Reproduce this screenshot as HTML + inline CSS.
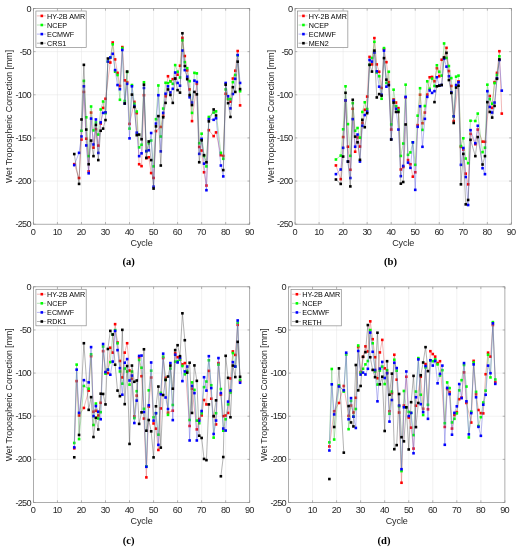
<!DOCTYPE html>
<html><head><meta charset="utf-8"><title>Wet Tropospheric Correction</title>
<style>
html,body{margin:0;padding:0;background:#fff;}
svg{display:block;}
text{font-family:"Liberation Sans",sans-serif;fill:#262626;}
.tk{font-size:9.2px;letter-spacing:-0.75px;}
.lb{font-size:9px;letter-spacing:-0.1px;}
.yl{font-size:8.75px;}
.lg{font-size:7.2px;fill:#000;}
.cap{font-family:"Liberation Serif",serif;font-weight:bold;font-size:10.6px;fill:#000;}
</style></head><body>
<svg width="519" height="550" viewBox="0 0 519 550">
<rect width="519" height="550" fill="#ffffff"/>

<g>
<line x1="57.43" y1="8.5" x2="57.43" y2="224.2" stroke="#e4e4e4" stroke-width="0.5"/>
<line x1="81.47" y1="8.5" x2="81.47" y2="224.2" stroke="#e4e4e4" stroke-width="0.5"/>
<line x1="105.5" y1="8.5" x2="105.5" y2="224.2" stroke="#e4e4e4" stroke-width="0.5"/>
<line x1="129.53" y1="8.5" x2="129.53" y2="224.2" stroke="#e4e4e4" stroke-width="0.5"/>
<line x1="153.57" y1="8.5" x2="153.57" y2="224.2" stroke="#e4e4e4" stroke-width="0.5"/>
<line x1="177.6" y1="8.5" x2="177.6" y2="224.2" stroke="#e4e4e4" stroke-width="0.5"/>
<line x1="201.63" y1="8.5" x2="201.63" y2="224.2" stroke="#e4e4e4" stroke-width="0.5"/>
<line x1="225.67" y1="8.5" x2="225.67" y2="224.2" stroke="#e4e4e4" stroke-width="0.5"/>
<line x1="33.4" y1="51.64" x2="249.7" y2="51.64" stroke="#e4e4e4" stroke-width="0.5"/>
<line x1="33.4" y1="94.78" x2="249.7" y2="94.78" stroke="#e4e4e4" stroke-width="0.5"/>
<line x1="33.4" y1="137.92" x2="249.7" y2="137.92" stroke="#e4e4e4" stroke-width="0.5"/>
<line x1="33.4" y1="181.06" x2="249.7" y2="181.06" stroke="#e4e4e4" stroke-width="0.5"/>
<polyline fill="none" stroke="#e06060" stroke-width="0.45" points="74.26,164.15 79.06,178.04 81.47,139.56 83.87,91.93 86.27,138.7 88.68,171.4 91.08,112.55 93.48,147.67 95.89,129.12 98.29,145.6 100.69,123.6 103.1,107.89 105.5,98.75 110.31,62.51 112.71,42.49 115.11,59.41 117.52,72.86 119.92,85.98 122.32,47.07 124.73,80.37 127.13,82.18 129.53,123.86 134.34,101.85 136.74,113.16 139.15,164.24 141.55,166.13 143.95,95.21 146.36,158.2 148.76,157.25 151.16,173.04 153.57,177.95 155.97,131.1 160.78,126.96 163.18,115.66 165.58,96.25 167.99,76.23 170.39,81.32 172.79,79.16 175.2,78.56 177.6,74.68 180,65.7 182.41,37.84 184.81,56.04 187.21,70.36 189.62,89.43 192.02,121.1 196.83,83.82 199.23,146.98 201.63,150.52 204.04,172.26 206.44,185.55 208.84,130.15 213.65,136.11 216.05,132.4 220.86,155.18 223.26,155.95 225.67,93.74 228.07,99.09 230.47,101.68 232.88,78.56 235.28,70.71 237.68,51.04 240.09,105.39"/>
<g fill="#ff0000"><rect x="72.96" y="162.85" width="2.6" height="2.6"/><rect x="77.76" y="176.74" width="2.6" height="2.6"/><rect x="80.17" y="138.26" width="2.6" height="2.6"/><rect x="82.57" y="90.63" width="2.6" height="2.6"/><rect x="84.97" y="137.4" width="2.6" height="2.6"/><rect x="87.38" y="170.1" width="2.6" height="2.6"/><rect x="89.78" y="111.25" width="2.6" height="2.6"/><rect x="92.18" y="146.37" width="2.6" height="2.6"/><rect x="94.59" y="127.82" width="2.6" height="2.6"/><rect x="96.99" y="144.3" width="2.6" height="2.6"/><rect x="99.39" y="122.3" width="2.6" height="2.6"/><rect x="101.8" y="106.59" width="2.6" height="2.6"/><rect x="104.2" y="97.45" width="2.6" height="2.6"/><rect x="109.01" y="61.21" width="2.6" height="2.6"/><rect x="111.41" y="41.19" width="2.6" height="2.6"/><rect x="113.81" y="58.11" width="2.6" height="2.6"/><rect x="116.22" y="71.56" width="2.6" height="2.6"/><rect x="118.62" y="84.68" width="2.6" height="2.6"/><rect x="121.02" y="45.77" width="2.6" height="2.6"/><rect x="123.43" y="79.07" width="2.6" height="2.6"/><rect x="125.83" y="80.88" width="2.6" height="2.6"/><rect x="128.23" y="122.56" width="2.6" height="2.6"/><rect x="133.04" y="100.55" width="2.6" height="2.6"/><rect x="135.44" y="111.86" width="2.6" height="2.6"/><rect x="137.85" y="162.94" width="2.6" height="2.6"/><rect x="140.25" y="164.83" width="2.6" height="2.6"/><rect x="142.65" y="93.91" width="2.6" height="2.6"/><rect x="145.06" y="156.9" width="2.6" height="2.6"/><rect x="147.46" y="155.95" width="2.6" height="2.6"/><rect x="149.86" y="171.74" width="2.6" height="2.6"/><rect x="152.27" y="176.65" width="2.6" height="2.6"/><rect x="154.67" y="129.8" width="2.6" height="2.6"/><rect x="159.48" y="125.66" width="2.6" height="2.6"/><rect x="161.88" y="114.36" width="2.6" height="2.6"/><rect x="164.28" y="94.95" width="2.6" height="2.6"/><rect x="166.69" y="74.93" width="2.6" height="2.6"/><rect x="169.09" y="80.02" width="2.6" height="2.6"/><rect x="171.49" y="77.86" width="2.6" height="2.6"/><rect x="173.9" y="77.26" width="2.6" height="2.6"/><rect x="176.3" y="73.38" width="2.6" height="2.6"/><rect x="178.7" y="64.4" width="2.6" height="2.6"/><rect x="181.11" y="36.54" width="2.6" height="2.6"/><rect x="183.51" y="54.74" width="2.6" height="2.6"/><rect x="185.91" y="69.06" width="2.6" height="2.6"/><rect x="188.32" y="88.13" width="2.6" height="2.6"/><rect x="190.72" y="119.8" width="2.6" height="2.6"/><rect x="195.53" y="82.52" width="2.6" height="2.6"/><rect x="197.93" y="145.68" width="2.6" height="2.6"/><rect x="200.33" y="149.22" width="2.6" height="2.6"/><rect x="202.74" y="170.96" width="2.6" height="2.6"/><rect x="205.14" y="184.25" width="2.6" height="2.6"/><rect x="207.54" y="128.85" width="2.6" height="2.6"/><rect x="212.35" y="134.81" width="2.6" height="2.6"/><rect x="214.75" y="131.1" width="2.6" height="2.6"/><rect x="219.56" y="153.88" width="2.6" height="2.6"/><rect x="221.96" y="154.65" width="2.6" height="2.6"/><rect x="224.37" y="92.44" width="2.6" height="2.6"/><rect x="226.77" y="97.79" width="2.6" height="2.6"/><rect x="229.17" y="100.38" width="2.6" height="2.6"/><rect x="231.58" y="77.26" width="2.6" height="2.6"/><rect x="233.98" y="69.41" width="2.6" height="2.6"/><rect x="236.38" y="49.74" width="2.6" height="2.6"/><rect x="238.79" y="104.09" width="2.6" height="2.6"/></g>
<polyline fill="none" stroke="#60c060" stroke-width="0.45" points="81.47,130.76 83.87,80.89 86.27,117.3 88.68,156.13 91.08,106.51 93.48,130.41 95.89,122.39 98.29,134.56 100.69,109.45 103.1,101.51 105.5,113.16 107.9,61.56 110.31,57.51 112.71,44.31 115.11,71.74 117.52,75.02 119.92,99.78 122.32,48.1 124.73,100.99 127.13,72 129.53,128.6 131.94,85.03 134.34,103.75 136.74,111.52 139.15,147.41 141.55,144.74 143.95,82.27 146.36,151.12 148.76,143.27 151.16,140.51 153.57,166.39 155.97,119.2 158.37,85.46 160.78,136.54 163.18,108.58 165.58,82.79 167.99,83.13 170.39,81.32 172.79,83.82 175.2,65.1 177.6,71.74 180,77.52 182.41,40.34 184.81,62.17 187.21,68.21 189.62,81.15 192.02,112.9 194.42,72.86 196.83,73.38 199.23,143.27 201.63,133.69 204.04,156.04 206.44,166.39 208.84,116.95 213.65,112.55 216.05,111.35 220.86,152.85 223.26,158.8 225.67,89.43 228.07,99.09 230.47,99.09 232.88,82.18 235.28,75.02 237.68,55.35 240.09,91.24"/>
<g fill="#00ff00"><rect x="80.17" y="129.46" width="2.6" height="2.6"/><rect x="82.57" y="79.59" width="2.6" height="2.6"/><rect x="84.97" y="116" width="2.6" height="2.6"/><rect x="87.38" y="154.83" width="2.6" height="2.6"/><rect x="89.78" y="105.21" width="2.6" height="2.6"/><rect x="92.18" y="129.11" width="2.6" height="2.6"/><rect x="94.59" y="121.09" width="2.6" height="2.6"/><rect x="96.99" y="133.26" width="2.6" height="2.6"/><rect x="99.39" y="108.15" width="2.6" height="2.6"/><rect x="101.8" y="100.21" width="2.6" height="2.6"/><rect x="104.2" y="111.86" width="2.6" height="2.6"/><rect x="106.6" y="60.26" width="2.6" height="2.6"/><rect x="109.01" y="56.21" width="2.6" height="2.6"/><rect x="111.41" y="43.01" width="2.6" height="2.6"/><rect x="113.81" y="70.44" width="2.6" height="2.6"/><rect x="116.22" y="73.72" width="2.6" height="2.6"/><rect x="118.62" y="98.48" width="2.6" height="2.6"/><rect x="121.02" y="46.8" width="2.6" height="2.6"/><rect x="123.43" y="99.69" width="2.6" height="2.6"/><rect x="125.83" y="70.7" width="2.6" height="2.6"/><rect x="128.23" y="127.3" width="2.6" height="2.6"/><rect x="130.64" y="83.73" width="2.6" height="2.6"/><rect x="133.04" y="102.45" width="2.6" height="2.6"/><rect x="135.44" y="110.22" width="2.6" height="2.6"/><rect x="137.85" y="146.11" width="2.6" height="2.6"/><rect x="140.25" y="143.44" width="2.6" height="2.6"/><rect x="142.65" y="80.97" width="2.6" height="2.6"/><rect x="145.06" y="149.82" width="2.6" height="2.6"/><rect x="147.46" y="141.97" width="2.6" height="2.6"/><rect x="149.86" y="139.21" width="2.6" height="2.6"/><rect x="152.27" y="165.09" width="2.6" height="2.6"/><rect x="154.67" y="117.9" width="2.6" height="2.6"/><rect x="157.07" y="84.16" width="2.6" height="2.6"/><rect x="159.48" y="135.24" width="2.6" height="2.6"/><rect x="161.88" y="107.28" width="2.6" height="2.6"/><rect x="164.28" y="81.49" width="2.6" height="2.6"/><rect x="166.69" y="81.83" width="2.6" height="2.6"/><rect x="169.09" y="80.02" width="2.6" height="2.6"/><rect x="171.49" y="82.52" width="2.6" height="2.6"/><rect x="173.9" y="63.8" width="2.6" height="2.6"/><rect x="176.3" y="70.44" width="2.6" height="2.6"/><rect x="178.7" y="76.22" width="2.6" height="2.6"/><rect x="181.11" y="39.04" width="2.6" height="2.6"/><rect x="183.51" y="60.87" width="2.6" height="2.6"/><rect x="185.91" y="66.91" width="2.6" height="2.6"/><rect x="188.32" y="79.85" width="2.6" height="2.6"/><rect x="190.72" y="111.6" width="2.6" height="2.6"/><rect x="193.12" y="71.56" width="2.6" height="2.6"/><rect x="195.53" y="72.08" width="2.6" height="2.6"/><rect x="197.93" y="141.97" width="2.6" height="2.6"/><rect x="200.33" y="132.39" width="2.6" height="2.6"/><rect x="202.74" y="154.74" width="2.6" height="2.6"/><rect x="205.14" y="165.09" width="2.6" height="2.6"/><rect x="207.54" y="115.65" width="2.6" height="2.6"/><rect x="212.35" y="111.25" width="2.6" height="2.6"/><rect x="214.75" y="110.05" width="2.6" height="2.6"/><rect x="219.56" y="151.55" width="2.6" height="2.6"/><rect x="221.96" y="157.5" width="2.6" height="2.6"/><rect x="224.37" y="88.13" width="2.6" height="2.6"/><rect x="226.77" y="97.79" width="2.6" height="2.6"/><rect x="229.17" y="97.79" width="2.6" height="2.6"/><rect x="231.58" y="80.88" width="2.6" height="2.6"/><rect x="233.98" y="73.72" width="2.6" height="2.6"/><rect x="236.38" y="54.05" width="2.6" height="2.6"/><rect x="238.79" y="89.94" width="2.6" height="2.6"/></g>
<polyline fill="none" stroke="#6060e0" stroke-width="0.45" points="74.26,165.1 79.06,152.85 81.47,136.45 83.87,86.32 86.27,145.43 88.68,173.29 91.08,118.59 93.48,144.48 95.89,119.46 98.29,152.93 100.69,122.39 103.1,112.9 105.5,112.29 107.9,61.56 110.31,57.51 112.71,53.8 115.11,70.1 117.52,85.03 119.92,89.17 122.32,50 124.73,103.49 127.13,83.82 129.53,138.35 131.94,86.32 134.34,106 136.74,132.66 139.15,156.13 141.55,153.36 143.95,87.96 146.36,151.12 148.76,150.26 151.16,133 153.57,186.67 155.97,123.6 158.37,95.21 160.78,151.38 163.18,112.9 165.58,93.74 167.99,86.32 170.39,92.45 172.79,88.83 175.2,72.52 177.6,82.96 180,85.72 182.41,50.52 184.81,70.1 187.21,76.66 189.62,97.28 192.02,102.55 194.42,80.63 196.83,81.92 199.23,153.88 201.63,138.87 204.04,163.63 206.44,190.21 208.84,119.11 213.65,119.8 216.05,118.25 220.86,165.53 223.26,176.4 225.67,82.96 228.07,96.25 230.47,108.41 232.88,94 235.28,78.82 237.68,55 240.09,82.96"/>
<g fill="#0000ff"><rect x="72.96" y="163.8" width="2.6" height="2.6"/><rect x="77.76" y="151.55" width="2.6" height="2.6"/><rect x="80.17" y="135.15" width="2.6" height="2.6"/><rect x="82.57" y="85.02" width="2.6" height="2.6"/><rect x="84.97" y="144.13" width="2.6" height="2.6"/><rect x="87.38" y="171.99" width="2.6" height="2.6"/><rect x="89.78" y="117.29" width="2.6" height="2.6"/><rect x="92.18" y="143.18" width="2.6" height="2.6"/><rect x="94.59" y="118.16" width="2.6" height="2.6"/><rect x="96.99" y="151.63" width="2.6" height="2.6"/><rect x="99.39" y="121.09" width="2.6" height="2.6"/><rect x="101.8" y="111.6" width="2.6" height="2.6"/><rect x="104.2" y="110.99" width="2.6" height="2.6"/><rect x="106.6" y="60.26" width="2.6" height="2.6"/><rect x="109.01" y="56.21" width="2.6" height="2.6"/><rect x="111.41" y="52.5" width="2.6" height="2.6"/><rect x="113.81" y="68.8" width="2.6" height="2.6"/><rect x="116.22" y="83.73" width="2.6" height="2.6"/><rect x="118.62" y="87.87" width="2.6" height="2.6"/><rect x="121.02" y="48.7" width="2.6" height="2.6"/><rect x="123.43" y="102.19" width="2.6" height="2.6"/><rect x="125.83" y="82.52" width="2.6" height="2.6"/><rect x="128.23" y="137.05" width="2.6" height="2.6"/><rect x="130.64" y="85.02" width="2.6" height="2.6"/><rect x="133.04" y="104.7" width="2.6" height="2.6"/><rect x="135.44" y="131.36" width="2.6" height="2.6"/><rect x="137.85" y="154.83" width="2.6" height="2.6"/><rect x="140.25" y="152.06" width="2.6" height="2.6"/><rect x="142.65" y="86.66" width="2.6" height="2.6"/><rect x="145.06" y="149.82" width="2.6" height="2.6"/><rect x="147.46" y="148.96" width="2.6" height="2.6"/><rect x="149.86" y="131.7" width="2.6" height="2.6"/><rect x="152.27" y="185.37" width="2.6" height="2.6"/><rect x="154.67" y="122.3" width="2.6" height="2.6"/><rect x="157.07" y="93.91" width="2.6" height="2.6"/><rect x="159.48" y="150.08" width="2.6" height="2.6"/><rect x="161.88" y="111.6" width="2.6" height="2.6"/><rect x="164.28" y="92.44" width="2.6" height="2.6"/><rect x="166.69" y="85.02" width="2.6" height="2.6"/><rect x="169.09" y="91.15" width="2.6" height="2.6"/><rect x="171.49" y="87.53" width="2.6" height="2.6"/><rect x="173.9" y="71.22" width="2.6" height="2.6"/><rect x="176.3" y="81.66" width="2.6" height="2.6"/><rect x="178.7" y="84.42" width="2.6" height="2.6"/><rect x="181.11" y="49.22" width="2.6" height="2.6"/><rect x="183.51" y="68.8" width="2.6" height="2.6"/><rect x="185.91" y="75.36" width="2.6" height="2.6"/><rect x="188.32" y="95.98" width="2.6" height="2.6"/><rect x="190.72" y="101.25" width="2.6" height="2.6"/><rect x="193.12" y="79.33" width="2.6" height="2.6"/><rect x="195.53" y="80.62" width="2.6" height="2.6"/><rect x="197.93" y="152.58" width="2.6" height="2.6"/><rect x="200.33" y="137.57" width="2.6" height="2.6"/><rect x="202.74" y="162.33" width="2.6" height="2.6"/><rect x="205.14" y="188.91" width="2.6" height="2.6"/><rect x="207.54" y="117.81" width="2.6" height="2.6"/><rect x="212.35" y="118.5" width="2.6" height="2.6"/><rect x="214.75" y="116.95" width="2.6" height="2.6"/><rect x="219.56" y="164.23" width="2.6" height="2.6"/><rect x="221.96" y="175.1" width="2.6" height="2.6"/><rect x="224.37" y="81.66" width="2.6" height="2.6"/><rect x="226.77" y="94.95" width="2.6" height="2.6"/><rect x="229.17" y="107.11" width="2.6" height="2.6"/><rect x="231.58" y="92.7" width="2.6" height="2.6"/><rect x="233.98" y="77.52" width="2.6" height="2.6"/><rect x="236.38" y="53.7" width="2.6" height="2.6"/><rect x="238.79" y="81.66" width="2.6" height="2.6"/></g>
<polyline fill="none" stroke="#555555" stroke-width="0.45" points="74.26,154.05 79.06,183.91 81.47,119.46 83.87,64.84 86.27,129.55 88.68,164.24 91.08,140.59 93.48,156.13 95.89,124.89 98.29,160.09 100.69,130.76 103.1,128.6 105.5,120.06 107.9,58.54"/>
<polyline fill="none" stroke="#555555" stroke-width="0.45" points="124.73,103.49 127.13,71.57"/>
<polyline fill="none" stroke="#555555" stroke-width="0.45" points="131.94,94.61 134.34,106.95 136.74,135.16 139.15,134.56 141.55,139.21 143.95,84.69 146.36,157.85 148.76,141.46 151.16,160.09 153.57,188.57 155.97,126.36 158.37,116.09 160.78,165.53 163.18,117.3 165.58,102.89 167.99,89.43 170.39,94.95 172.79,102.89 175.2,78.56 177.6,90.12 180,92.62 182.41,33.26 184.81,66.05 187.21,79.16 189.62,95.04 192.02,105.05 194.42,91.93 196.83,94.35 199.23,162.25 201.63,140.34 204.04,155.18 206.44,162.25 208.84,121.35 213.65,109.45 216.05,115.49"/>
<polyline fill="none" stroke="#555555" stroke-width="0.45" points="223.26,170.1 225.67,84.69 228.07,103.15 230.47,116.95 232.88,87.19 235.28,91.93 237.68,61.65 240.09,89.09"/>
<g fill="#000000"><rect x="72.96" y="152.75" width="2.6" height="2.6"/><rect x="77.76" y="182.61" width="2.6" height="2.6"/><rect x="80.17" y="118.16" width="2.6" height="2.6"/><rect x="82.57" y="63.54" width="2.6" height="2.6"/><rect x="84.97" y="128.25" width="2.6" height="2.6"/><rect x="87.38" y="162.94" width="2.6" height="2.6"/><rect x="89.78" y="139.29" width="2.6" height="2.6"/><rect x="92.18" y="154.83" width="2.6" height="2.6"/><rect x="94.59" y="123.59" width="2.6" height="2.6"/><rect x="96.99" y="158.79" width="2.6" height="2.6"/><rect x="99.39" y="129.46" width="2.6" height="2.6"/><rect x="101.8" y="127.3" width="2.6" height="2.6"/><rect x="104.2" y="118.76" width="2.6" height="2.6"/><rect x="106.6" y="57.24" width="2.6" height="2.6"/><rect x="123.43" y="102.19" width="2.6" height="2.6"/><rect x="125.83" y="70.27" width="2.6" height="2.6"/><rect x="130.64" y="93.31" width="2.6" height="2.6"/><rect x="133.04" y="105.65" width="2.6" height="2.6"/><rect x="135.44" y="133.86" width="2.6" height="2.6"/><rect x="137.85" y="133.26" width="2.6" height="2.6"/><rect x="140.25" y="137.91" width="2.6" height="2.6"/><rect x="142.65" y="83.39" width="2.6" height="2.6"/><rect x="145.06" y="156.55" width="2.6" height="2.6"/><rect x="147.46" y="140.16" width="2.6" height="2.6"/><rect x="149.86" y="158.79" width="2.6" height="2.6"/><rect x="152.27" y="187.27" width="2.6" height="2.6"/><rect x="154.67" y="125.06" width="2.6" height="2.6"/><rect x="157.07" y="114.79" width="2.6" height="2.6"/><rect x="159.48" y="164.23" width="2.6" height="2.6"/><rect x="161.88" y="116" width="2.6" height="2.6"/><rect x="164.28" y="101.59" width="2.6" height="2.6"/><rect x="166.69" y="88.13" width="2.6" height="2.6"/><rect x="169.09" y="93.65" width="2.6" height="2.6"/><rect x="171.49" y="101.59" width="2.6" height="2.6"/><rect x="173.9" y="77.26" width="2.6" height="2.6"/><rect x="176.3" y="88.82" width="2.6" height="2.6"/><rect x="178.7" y="91.32" width="2.6" height="2.6"/><rect x="181.11" y="31.96" width="2.6" height="2.6"/><rect x="183.51" y="64.75" width="2.6" height="2.6"/><rect x="185.91" y="77.86" width="2.6" height="2.6"/><rect x="188.32" y="93.74" width="2.6" height="2.6"/><rect x="190.72" y="103.75" width="2.6" height="2.6"/><rect x="193.12" y="90.63" width="2.6" height="2.6"/><rect x="195.53" y="93.05" width="2.6" height="2.6"/><rect x="197.93" y="160.95" width="2.6" height="2.6"/><rect x="200.33" y="139.04" width="2.6" height="2.6"/><rect x="202.74" y="153.88" width="2.6" height="2.6"/><rect x="205.14" y="160.95" width="2.6" height="2.6"/><rect x="207.54" y="120.05" width="2.6" height="2.6"/><rect x="212.35" y="108.15" width="2.6" height="2.6"/><rect x="214.75" y="114.19" width="2.6" height="2.6"/><rect x="221.96" y="168.8" width="2.6" height="2.6"/><rect x="224.37" y="83.39" width="2.6" height="2.6"/><rect x="226.77" y="101.85" width="2.6" height="2.6"/><rect x="229.17" y="115.65" width="2.6" height="2.6"/><rect x="231.58" y="85.89" width="2.6" height="2.6"/><rect x="233.98" y="90.63" width="2.6" height="2.6"/><rect x="236.38" y="60.35" width="2.6" height="2.6"/><rect x="238.79" y="87.79" width="2.6" height="2.6"/></g>
<rect x="33.4" y="8.5" width="216.3" height="215.7" fill="none" stroke="#8a8a8a" stroke-width="0.7"/>
<line x1="33.4" y1="224.2" x2="33.4" y2="222" stroke="#8a8a8a" stroke-width="0.6"/>
<line x1="33.4" y1="8.5" x2="33.4" y2="10.7" stroke="#8a8a8a" stroke-width="0.6"/>
<text class="tk" text-anchor="middle" x="33" y="234.5">0</text>
<line x1="57.43" y1="224.2" x2="57.43" y2="222" stroke="#8a8a8a" stroke-width="0.6"/>
<line x1="57.43" y1="8.5" x2="57.43" y2="10.7" stroke="#8a8a8a" stroke-width="0.6"/>
<text class="tk" text-anchor="middle" x="57.03" y="234.5">10</text>
<line x1="81.47" y1="224.2" x2="81.47" y2="222" stroke="#8a8a8a" stroke-width="0.6"/>
<line x1="81.47" y1="8.5" x2="81.47" y2="10.7" stroke="#8a8a8a" stroke-width="0.6"/>
<text class="tk" text-anchor="middle" x="81.07" y="234.5">20</text>
<line x1="105.5" y1="224.2" x2="105.5" y2="222" stroke="#8a8a8a" stroke-width="0.6"/>
<line x1="105.5" y1="8.5" x2="105.5" y2="10.7" stroke="#8a8a8a" stroke-width="0.6"/>
<text class="tk" text-anchor="middle" x="105.1" y="234.5">30</text>
<line x1="129.53" y1="224.2" x2="129.53" y2="222" stroke="#8a8a8a" stroke-width="0.6"/>
<line x1="129.53" y1="8.5" x2="129.53" y2="10.7" stroke="#8a8a8a" stroke-width="0.6"/>
<text class="tk" text-anchor="middle" x="129.13" y="234.5">40</text>
<line x1="153.57" y1="224.2" x2="153.57" y2="222" stroke="#8a8a8a" stroke-width="0.6"/>
<line x1="153.57" y1="8.5" x2="153.57" y2="10.7" stroke="#8a8a8a" stroke-width="0.6"/>
<text class="tk" text-anchor="middle" x="153.17" y="234.5">50</text>
<line x1="177.6" y1="224.2" x2="177.6" y2="222" stroke="#8a8a8a" stroke-width="0.6"/>
<line x1="177.6" y1="8.5" x2="177.6" y2="10.7" stroke="#8a8a8a" stroke-width="0.6"/>
<text class="tk" text-anchor="middle" x="177.2" y="234.5">60</text>
<line x1="201.63" y1="224.2" x2="201.63" y2="222" stroke="#8a8a8a" stroke-width="0.6"/>
<line x1="201.63" y1="8.5" x2="201.63" y2="10.7" stroke="#8a8a8a" stroke-width="0.6"/>
<text class="tk" text-anchor="middle" x="201.23" y="234.5">70</text>
<line x1="225.67" y1="224.2" x2="225.67" y2="222" stroke="#8a8a8a" stroke-width="0.6"/>
<line x1="225.67" y1="8.5" x2="225.67" y2="10.7" stroke="#8a8a8a" stroke-width="0.6"/>
<text class="tk" text-anchor="middle" x="225.27" y="234.5">80</text>
<line x1="249.7" y1="224.2" x2="249.7" y2="222" stroke="#8a8a8a" stroke-width="0.6"/>
<line x1="249.7" y1="8.5" x2="249.7" y2="10.7" stroke="#8a8a8a" stroke-width="0.6"/>
<text class="tk" text-anchor="middle" x="249.3" y="234.5">90</text>
<line x1="33.4" y1="8.5" x2="35.6" y2="8.5" stroke="#8a8a8a" stroke-width="0.6"/>
<line x1="249.7" y1="8.5" x2="247.5" y2="8.5" stroke="#8a8a8a" stroke-width="0.6"/>
<text class="tk" text-anchor="end" x="30.8" y="11.6">0</text>
<line x1="33.4" y1="51.64" x2="35.6" y2="51.64" stroke="#8a8a8a" stroke-width="0.6"/>
<line x1="249.7" y1="51.64" x2="247.5" y2="51.64" stroke="#8a8a8a" stroke-width="0.6"/>
<text class="tk" text-anchor="end" x="30.8" y="54.74">-50</text>
<line x1="33.4" y1="94.78" x2="35.6" y2="94.78" stroke="#8a8a8a" stroke-width="0.6"/>
<line x1="249.7" y1="94.78" x2="247.5" y2="94.78" stroke="#8a8a8a" stroke-width="0.6"/>
<text class="tk" text-anchor="end" x="30.8" y="97.88">-100</text>
<line x1="33.4" y1="137.92" x2="35.6" y2="137.92" stroke="#8a8a8a" stroke-width="0.6"/>
<line x1="249.7" y1="137.92" x2="247.5" y2="137.92" stroke="#8a8a8a" stroke-width="0.6"/>
<text class="tk" text-anchor="end" x="30.8" y="141.02">-150</text>
<line x1="33.4" y1="181.06" x2="35.6" y2="181.06" stroke="#8a8a8a" stroke-width="0.6"/>
<line x1="249.7" y1="181.06" x2="247.5" y2="181.06" stroke="#8a8a8a" stroke-width="0.6"/>
<text class="tk" text-anchor="end" x="30.8" y="184.16">-200</text>
<line x1="33.4" y1="224.2" x2="35.6" y2="224.2" stroke="#8a8a8a" stroke-width="0.6"/>
<line x1="249.7" y1="224.2" x2="247.5" y2="224.2" stroke="#8a8a8a" stroke-width="0.6"/>
<text class="tk" text-anchor="end" x="30.8" y="227.3">-250</text>
<text class="lb" text-anchor="middle" x="141.55" y="246.1">Cycle</text>
<text class="yl" text-anchor="middle" transform="translate(12.2 116.45) rotate(-90)">Wet Tropospheric Correction [mm]</text>
<rect x="35.9" y="11" width="50.3" height="36.5" fill="#fff" stroke="#8a8a8a" stroke-width="0.7"/>
<line x1="36.9" y1="15.9" x2="45.9" y2="15.9" stroke="#e06060" stroke-width="0.45"/>
<rect x="40.5" y="14.6" width="2.6" height="2.6" fill="#ff0000"/>
<text class="lg" x="47.1" y="19">HY-2B AMR</text>
<line x1="36.9" y1="25" x2="45.9" y2="25" stroke="#60c060" stroke-width="0.45"/>
<rect x="40.5" y="23.7" width="2.6" height="2.6" fill="#00ff00"/>
<text class="lg" x="47.1" y="28">NCEP</text>
<line x1="36.9" y1="34.1" x2="45.9" y2="34.1" stroke="#6060e0" stroke-width="0.45"/>
<rect x="40.5" y="32.8" width="2.6" height="2.6" fill="#0000ff"/>
<text class="lg" x="47.1" y="37">ECMWF</text>
<line x1="36.9" y1="43.2" x2="45.9" y2="43.2" stroke="#555555" stroke-width="0.45"/>
<rect x="40.5" y="41.9" width="2.6" height="2.6" fill="#000000"/>
<text class="lg" x="47.1" y="46">CRS1</text>
<text class="cap" text-anchor="middle" x="128.6" y="265">(a)</text>
</g>
<g>
<line x1="319.09" y1="8.5" x2="319.09" y2="224.2" stroke="#e4e4e4" stroke-width="0.5"/>
<line x1="343.13" y1="8.5" x2="343.13" y2="224.2" stroke="#e4e4e4" stroke-width="0.5"/>
<line x1="367.17" y1="8.5" x2="367.17" y2="224.2" stroke="#e4e4e4" stroke-width="0.5"/>
<line x1="391.21" y1="8.5" x2="391.21" y2="224.2" stroke="#e4e4e4" stroke-width="0.5"/>
<line x1="415.24" y1="8.5" x2="415.24" y2="224.2" stroke="#e4e4e4" stroke-width="0.5"/>
<line x1="439.28" y1="8.5" x2="439.28" y2="224.2" stroke="#e4e4e4" stroke-width="0.5"/>
<line x1="463.32" y1="8.5" x2="463.32" y2="224.2" stroke="#e4e4e4" stroke-width="0.5"/>
<line x1="487.36" y1="8.5" x2="487.36" y2="224.2" stroke="#e4e4e4" stroke-width="0.5"/>
<line x1="295.05" y1="51.64" x2="511.4" y2="51.64" stroke="#e4e4e4" stroke-width="0.5"/>
<line x1="295.05" y1="94.78" x2="511.4" y2="94.78" stroke="#e4e4e4" stroke-width="0.5"/>
<line x1="295.05" y1="137.92" x2="511.4" y2="137.92" stroke="#e4e4e4" stroke-width="0.5"/>
<line x1="295.05" y1="181.06" x2="511.4" y2="181.06" stroke="#e4e4e4" stroke-width="0.5"/>
<polyline fill="none" stroke="#e06060" stroke-width="0.45" points="335.92,165.44 340.72,179.16 343.13,137.06 345.53,100.65 347.94,146.72 350.34,169.76 352.74,108.76 355.15,151.72 357.55,137.4 359.95,146.55 362.36,122.82 364.76,109.79 367.17,96.59 369.57,56.9 371.97,64.41 374.38,38.09 376.78,64.41 379.19,71.74 381.59,87.96 383.99,49.14 386.4,62.17 388.8,82.18 391.21,129.55 393.61,99.35 396.01,102.55 398.42,108.15 400.82,169.5 403.23,167 405.63,97.45 408.03,160.09 410.44,164.24 412.84,176.66 415.24,172.26 417.65,125.15 420.05,94.69 422.46,123.25 424.86,112.55 427.26,94.61 429.67,77.27 432.07,76.92 434.48,81.32 436.88,68.21 439.28,76.23 441.69,59.75 444.09,57.51 446.5,47.84 448.9,71.05 451.3,85.98 453.71,121.1 458.51,81.32 460.92,146.89 463.32,149.65 465.73,173.64 468.13,184.34 470.53,133.86 475.34,144.22 477.75,129.55 482.55,141.63 484.96,141.8 489.76,95.99 492.17,107.89 494.57,82.18 496.98,72.86 499.38,51.21 501.78,113.59"/>
<g fill="#ff0000"><rect x="334.62" y="164.14" width="2.6" height="2.6"/><rect x="339.42" y="177.86" width="2.6" height="2.6"/><rect x="341.83" y="135.76" width="2.6" height="2.6"/><rect x="344.23" y="99.35" width="2.6" height="2.6"/><rect x="346.64" y="145.42" width="2.6" height="2.6"/><rect x="349.04" y="168.46" width="2.6" height="2.6"/><rect x="351.44" y="107.46" width="2.6" height="2.6"/><rect x="353.85" y="150.42" width="2.6" height="2.6"/><rect x="356.25" y="136.1" width="2.6" height="2.6"/><rect x="358.65" y="145.25" width="2.6" height="2.6"/><rect x="361.06" y="121.52" width="2.6" height="2.6"/><rect x="363.46" y="108.49" width="2.6" height="2.6"/><rect x="365.87" y="95.29" width="2.6" height="2.6"/><rect x="368.27" y="55.6" width="2.6" height="2.6"/><rect x="370.67" y="63.11" width="2.6" height="2.6"/><rect x="373.08" y="36.79" width="2.6" height="2.6"/><rect x="375.48" y="63.11" width="2.6" height="2.6"/><rect x="377.89" y="70.44" width="2.6" height="2.6"/><rect x="380.29" y="86.66" width="2.6" height="2.6"/><rect x="382.69" y="47.84" width="2.6" height="2.6"/><rect x="385.1" y="60.87" width="2.6" height="2.6"/><rect x="387.5" y="80.88" width="2.6" height="2.6"/><rect x="389.91" y="128.25" width="2.6" height="2.6"/><rect x="392.31" y="98.05" width="2.6" height="2.6"/><rect x="394.71" y="101.25" width="2.6" height="2.6"/><rect x="397.12" y="106.85" width="2.6" height="2.6"/><rect x="399.52" y="168.2" width="2.6" height="2.6"/><rect x="401.93" y="165.7" width="2.6" height="2.6"/><rect x="404.33" y="96.15" width="2.6" height="2.6"/><rect x="406.73" y="158.79" width="2.6" height="2.6"/><rect x="409.14" y="162.94" width="2.6" height="2.6"/><rect x="411.54" y="175.36" width="2.6" height="2.6"/><rect x="413.94" y="170.96" width="2.6" height="2.6"/><rect x="416.35" y="123.85" width="2.6" height="2.6"/><rect x="418.75" y="93.39" width="2.6" height="2.6"/><rect x="421.16" y="121.95" width="2.6" height="2.6"/><rect x="423.56" y="111.25" width="2.6" height="2.6"/><rect x="425.96" y="93.31" width="2.6" height="2.6"/><rect x="428.37" y="75.97" width="2.6" height="2.6"/><rect x="430.77" y="75.62" width="2.6" height="2.6"/><rect x="433.18" y="80.02" width="2.6" height="2.6"/><rect x="435.58" y="66.91" width="2.6" height="2.6"/><rect x="437.98" y="74.93" width="2.6" height="2.6"/><rect x="440.39" y="58.45" width="2.6" height="2.6"/><rect x="442.79" y="56.21" width="2.6" height="2.6"/><rect x="445.19" y="46.54" width="2.6" height="2.6"/><rect x="447.6" y="69.75" width="2.6" height="2.6"/><rect x="450" y="84.68" width="2.6" height="2.6"/><rect x="452.41" y="119.8" width="2.6" height="2.6"/><rect x="457.21" y="80.02" width="2.6" height="2.6"/><rect x="459.62" y="145.59" width="2.6" height="2.6"/><rect x="462.02" y="148.35" width="2.6" height="2.6"/><rect x="464.43" y="172.34" width="2.6" height="2.6"/><rect x="466.83" y="183.04" width="2.6" height="2.6"/><rect x="469.23" y="132.56" width="2.6" height="2.6"/><rect x="474.04" y="142.92" width="2.6" height="2.6"/><rect x="476.45" y="128.25" width="2.6" height="2.6"/><rect x="481.25" y="140.33" width="2.6" height="2.6"/><rect x="483.66" y="140.5" width="2.6" height="2.6"/><rect x="488.46" y="94.69" width="2.6" height="2.6"/><rect x="490.87" y="106.59" width="2.6" height="2.6"/><rect x="493.27" y="80.88" width="2.6" height="2.6"/><rect x="495.68" y="71.56" width="2.6" height="2.6"/><rect x="498.08" y="49.91" width="2.6" height="2.6"/><rect x="500.48" y="112.29" width="2.6" height="2.6"/></g>
<polyline fill="none" stroke="#60c060" stroke-width="0.45" points="335.92,159.49 340.72,155.61 343.13,129.29 345.53,86.32 347.94,124.12 350.34,155.87 352.74,103.15 355.15,130.76 357.55,128 359.95,137.66 362.36,111.95 364.76,102.29 367.17,109.02 369.57,64.84 371.97,57.94 374.38,41.8 376.78,72.52 379.19,76.23 381.59,98.75 383.99,48.1 386.4,82.96 388.8,71.74 391.21,124.46 393.61,89.69 396.01,106.26 398.42,110.05 400.82,155.95 403.23,143.53 405.63,84.69 408.03,154.83 410.44,152.42 412.84,142.32 415.24,164.84 417.65,115.66 420.05,88.22 422.46,129.9 424.86,106 427.26,81.32 429.67,88.83 432.07,78.56 434.48,85.98 436.88,65.27 439.28,71.74 441.69,75.63 444.09,43.44 446.5,57.94 448.9,66.05 451.3,78.13 453.71,116.35 456.11,76.66 458.51,75.63 460.92,146.03 463.32,138.27 465.73,158.54 468.13,163.2 470.53,120.75 475.34,121.01 477.75,113.59 482.55,152.16 484.96,147.67 487.36,84.69 489.76,99.09 492.17,103.75 494.57,83.13 496.98,75.02 499.38,56.3"/>
<g fill="#00ff00"><rect x="334.62" y="158.19" width="2.6" height="2.6"/><rect x="339.42" y="154.31" width="2.6" height="2.6"/><rect x="341.83" y="127.99" width="2.6" height="2.6"/><rect x="344.23" y="85.02" width="2.6" height="2.6"/><rect x="346.64" y="122.82" width="2.6" height="2.6"/><rect x="349.04" y="154.57" width="2.6" height="2.6"/><rect x="351.44" y="101.85" width="2.6" height="2.6"/><rect x="353.85" y="129.46" width="2.6" height="2.6"/><rect x="356.25" y="126.7" width="2.6" height="2.6"/><rect x="358.65" y="136.36" width="2.6" height="2.6"/><rect x="361.06" y="110.65" width="2.6" height="2.6"/><rect x="363.46" y="100.99" width="2.6" height="2.6"/><rect x="365.87" y="107.72" width="2.6" height="2.6"/><rect x="368.27" y="63.54" width="2.6" height="2.6"/><rect x="370.67" y="56.64" width="2.6" height="2.6"/><rect x="373.08" y="40.5" width="2.6" height="2.6"/><rect x="375.48" y="71.22" width="2.6" height="2.6"/><rect x="377.89" y="74.93" width="2.6" height="2.6"/><rect x="380.29" y="97.45" width="2.6" height="2.6"/><rect x="382.69" y="46.8" width="2.6" height="2.6"/><rect x="385.1" y="81.66" width="2.6" height="2.6"/><rect x="387.5" y="70.44" width="2.6" height="2.6"/><rect x="389.91" y="123.16" width="2.6" height="2.6"/><rect x="392.31" y="88.39" width="2.6" height="2.6"/><rect x="394.71" y="104.96" width="2.6" height="2.6"/><rect x="397.12" y="108.75" width="2.6" height="2.6"/><rect x="399.52" y="154.65" width="2.6" height="2.6"/><rect x="401.93" y="142.23" width="2.6" height="2.6"/><rect x="404.33" y="83.39" width="2.6" height="2.6"/><rect x="406.73" y="153.53" width="2.6" height="2.6"/><rect x="409.14" y="151.12" width="2.6" height="2.6"/><rect x="411.54" y="141.02" width="2.6" height="2.6"/><rect x="413.94" y="163.54" width="2.6" height="2.6"/><rect x="416.35" y="114.36" width="2.6" height="2.6"/><rect x="418.75" y="86.92" width="2.6" height="2.6"/><rect x="421.16" y="128.6" width="2.6" height="2.6"/><rect x="423.56" y="104.7" width="2.6" height="2.6"/><rect x="425.96" y="80.02" width="2.6" height="2.6"/><rect x="428.37" y="87.53" width="2.6" height="2.6"/><rect x="430.77" y="77.26" width="2.6" height="2.6"/><rect x="433.18" y="84.68" width="2.6" height="2.6"/><rect x="435.58" y="63.97" width="2.6" height="2.6"/><rect x="437.98" y="70.44" width="2.6" height="2.6"/><rect x="440.39" y="74.33" width="2.6" height="2.6"/><rect x="442.79" y="42.14" width="2.6" height="2.6"/><rect x="445.19" y="56.64" width="2.6" height="2.6"/><rect x="447.6" y="64.75" width="2.6" height="2.6"/><rect x="450" y="76.83" width="2.6" height="2.6"/><rect x="452.41" y="115.05" width="2.6" height="2.6"/><rect x="454.81" y="75.36" width="2.6" height="2.6"/><rect x="457.21" y="74.33" width="2.6" height="2.6"/><rect x="459.62" y="144.73" width="2.6" height="2.6"/><rect x="462.02" y="136.97" width="2.6" height="2.6"/><rect x="464.43" y="157.24" width="2.6" height="2.6"/><rect x="466.83" y="161.9" width="2.6" height="2.6"/><rect x="469.23" y="119.45" width="2.6" height="2.6"/><rect x="474.04" y="119.71" width="2.6" height="2.6"/><rect x="476.45" y="112.29" width="2.6" height="2.6"/><rect x="481.25" y="150.86" width="2.6" height="2.6"/><rect x="483.66" y="146.37" width="2.6" height="2.6"/><rect x="486.06" y="83.39" width="2.6" height="2.6"/><rect x="488.46" y="97.79" width="2.6" height="2.6"/><rect x="490.87" y="102.45" width="2.6" height="2.6"/><rect x="493.27" y="81.83" width="2.6" height="2.6"/><rect x="495.68" y="73.72" width="2.6" height="2.6"/><rect x="498.08" y="55" width="2.6" height="2.6"/></g>
<polyline fill="none" stroke="#6060e0" stroke-width="0.45" points="335.92,174.16 340.72,169.5 343.13,147.84 345.53,100.39 347.94,161.56 350.34,178.04 352.74,119.11 355.15,146.72 357.55,134.56 359.95,161.56 362.36,125.75 364.76,115.06 367.17,111.52 369.57,60.01 371.97,61.65 374.38,52.5 376.78,71.31 379.19,86.67 381.59,94.69 383.99,50.6 386.4,86.67 388.8,85.03 391.21,139.21 393.61,100.65 396.01,108.76 398.42,129.55 400.82,176.14 403.23,165.96 405.63,96.85 408.03,162.6 410.44,167.86 412.84,142.32 415.24,189.86 417.65,126.79 420.05,106.26 422.46,146.81 424.86,118.85 427.26,96.85 429.67,90.47 432.07,92.88 434.48,91.16 436.88,77.27 439.28,85.72 441.69,85.03 444.09,58.8 446.5,66.65 448.9,76.23 451.3,92.19 453.71,116.35 456.11,85.03 458.51,82.27 460.92,164.84 463.32,148.01 465.73,177 468.13,205.05 470.53,130.15 475.34,143.27 477.75,125.75 482.55,168.2 484.96,174.16 487.36,91.16 489.76,106.95 492.17,112.55 494.57,102.55 496.98,78.13 499.38,60.01 501.78,90.64"/>
<g fill="#0000ff"><rect x="334.62" y="172.86" width="2.6" height="2.6"/><rect x="339.42" y="168.2" width="2.6" height="2.6"/><rect x="341.83" y="146.54" width="2.6" height="2.6"/><rect x="344.23" y="99.09" width="2.6" height="2.6"/><rect x="346.64" y="160.26" width="2.6" height="2.6"/><rect x="349.04" y="176.74" width="2.6" height="2.6"/><rect x="351.44" y="117.81" width="2.6" height="2.6"/><rect x="353.85" y="145.42" width="2.6" height="2.6"/><rect x="356.25" y="133.26" width="2.6" height="2.6"/><rect x="358.65" y="160.26" width="2.6" height="2.6"/><rect x="361.06" y="124.45" width="2.6" height="2.6"/><rect x="363.46" y="113.76" width="2.6" height="2.6"/><rect x="365.87" y="110.22" width="2.6" height="2.6"/><rect x="368.27" y="58.71" width="2.6" height="2.6"/><rect x="370.67" y="60.35" width="2.6" height="2.6"/><rect x="373.08" y="51.2" width="2.6" height="2.6"/><rect x="375.48" y="70.01" width="2.6" height="2.6"/><rect x="377.89" y="85.37" width="2.6" height="2.6"/><rect x="380.29" y="93.39" width="2.6" height="2.6"/><rect x="382.69" y="49.3" width="2.6" height="2.6"/><rect x="385.1" y="85.37" width="2.6" height="2.6"/><rect x="387.5" y="83.73" width="2.6" height="2.6"/><rect x="389.91" y="137.91" width="2.6" height="2.6"/><rect x="392.31" y="99.35" width="2.6" height="2.6"/><rect x="394.71" y="107.46" width="2.6" height="2.6"/><rect x="397.12" y="128.25" width="2.6" height="2.6"/><rect x="399.52" y="174.84" width="2.6" height="2.6"/><rect x="401.93" y="164.66" width="2.6" height="2.6"/><rect x="404.33" y="95.55" width="2.6" height="2.6"/><rect x="406.73" y="161.3" width="2.6" height="2.6"/><rect x="409.14" y="166.56" width="2.6" height="2.6"/><rect x="411.54" y="141.02" width="2.6" height="2.6"/><rect x="413.94" y="188.56" width="2.6" height="2.6"/><rect x="416.35" y="125.49" width="2.6" height="2.6"/><rect x="418.75" y="104.96" width="2.6" height="2.6"/><rect x="421.16" y="145.51" width="2.6" height="2.6"/><rect x="423.56" y="117.55" width="2.6" height="2.6"/><rect x="425.96" y="95.55" width="2.6" height="2.6"/><rect x="428.37" y="89.17" width="2.6" height="2.6"/><rect x="430.77" y="91.58" width="2.6" height="2.6"/><rect x="433.18" y="89.86" width="2.6" height="2.6"/><rect x="435.58" y="75.97" width="2.6" height="2.6"/><rect x="437.98" y="84.42" width="2.6" height="2.6"/><rect x="440.39" y="83.73" width="2.6" height="2.6"/><rect x="442.79" y="57.5" width="2.6" height="2.6"/><rect x="445.19" y="65.35" width="2.6" height="2.6"/><rect x="447.6" y="74.93" width="2.6" height="2.6"/><rect x="450" y="90.89" width="2.6" height="2.6"/><rect x="452.41" y="115.05" width="2.6" height="2.6"/><rect x="454.81" y="83.73" width="2.6" height="2.6"/><rect x="457.21" y="80.97" width="2.6" height="2.6"/><rect x="459.62" y="163.54" width="2.6" height="2.6"/><rect x="462.02" y="146.71" width="2.6" height="2.6"/><rect x="464.43" y="175.7" width="2.6" height="2.6"/><rect x="466.83" y="203.75" width="2.6" height="2.6"/><rect x="469.23" y="128.85" width="2.6" height="2.6"/><rect x="474.04" y="141.97" width="2.6" height="2.6"/><rect x="476.45" y="124.45" width="2.6" height="2.6"/><rect x="481.25" y="166.9" width="2.6" height="2.6"/><rect x="483.66" y="172.86" width="2.6" height="2.6"/><rect x="486.06" y="89.86" width="2.6" height="2.6"/><rect x="488.46" y="105.65" width="2.6" height="2.6"/><rect x="490.87" y="111.25" width="2.6" height="2.6"/><rect x="493.27" y="101.25" width="2.6" height="2.6"/><rect x="495.68" y="76.83" width="2.6" height="2.6"/><rect x="498.08" y="58.71" width="2.6" height="2.6"/><rect x="500.48" y="89.34" width="2.6" height="2.6"/></g>
<polyline fill="none" stroke="#555555" stroke-width="0.45" points="335.92,179.51 340.72,183.91 343.13,156.56 345.53,92.8 347.94,161.56 350.34,186.41 352.74,99.78 355.15,136.63 357.55,142.32 359.95,159.84 362.36,119.8 364.76,127.22 367.17,113.16 369.57,64.84 371.97,71.57 374.38,50.6 376.78,97.45 379.19,94.09 381.59,95.64 383.99,58.11 386.4,79.68 388.8,85.03 391.21,139.56 393.61,102.55 396.01,111.95 398.42,111.95 400.82,183.65 403.23,182.01 405.63,124.46"/>
<polyline fill="none" stroke="#555555" stroke-width="0.45" points="434.48,102.11 436.88,86.32 439.28,85.72 441.69,85.03 444.09,57.51 446.5,52.85 448.9,80.03 451.3,92.97 453.71,122.99 456.11,87.53 458.51,85.72 460.92,184.34 463.32,153.88 465.73,204.36 468.13,199.96 470.53,139.82 475.34,156.13 477.75,137.06 482.55,164.49 484.96,156.13 487.36,102.11 489.76,111.95 492.17,117.56 494.57,105.91 496.98,78.82 499.38,59.41"/>
<g fill="#000000"><rect x="334.62" y="178.21" width="2.6" height="2.6"/><rect x="339.42" y="182.61" width="2.6" height="2.6"/><rect x="341.83" y="155.26" width="2.6" height="2.6"/><rect x="344.23" y="91.5" width="2.6" height="2.6"/><rect x="346.64" y="160.26" width="2.6" height="2.6"/><rect x="349.04" y="185.11" width="2.6" height="2.6"/><rect x="351.44" y="98.48" width="2.6" height="2.6"/><rect x="353.85" y="135.33" width="2.6" height="2.6"/><rect x="356.25" y="141.02" width="2.6" height="2.6"/><rect x="358.65" y="158.54" width="2.6" height="2.6"/><rect x="361.06" y="118.5" width="2.6" height="2.6"/><rect x="363.46" y="125.92" width="2.6" height="2.6"/><rect x="365.87" y="111.86" width="2.6" height="2.6"/><rect x="368.27" y="63.54" width="2.6" height="2.6"/><rect x="370.67" y="70.27" width="2.6" height="2.6"/><rect x="373.08" y="49.3" width="2.6" height="2.6"/><rect x="375.48" y="96.15" width="2.6" height="2.6"/><rect x="377.89" y="92.79" width="2.6" height="2.6"/><rect x="380.29" y="94.34" width="2.6" height="2.6"/><rect x="382.69" y="56.81" width="2.6" height="2.6"/><rect x="385.1" y="78.38" width="2.6" height="2.6"/><rect x="387.5" y="83.73" width="2.6" height="2.6"/><rect x="389.91" y="138.26" width="2.6" height="2.6"/><rect x="392.31" y="101.25" width="2.6" height="2.6"/><rect x="394.71" y="110.65" width="2.6" height="2.6"/><rect x="397.12" y="110.65" width="2.6" height="2.6"/><rect x="399.52" y="182.35" width="2.6" height="2.6"/><rect x="401.93" y="180.71" width="2.6" height="2.6"/><rect x="404.33" y="123.16" width="2.6" height="2.6"/><rect x="433.18" y="100.81" width="2.6" height="2.6"/><rect x="435.58" y="85.02" width="2.6" height="2.6"/><rect x="437.98" y="84.42" width="2.6" height="2.6"/><rect x="440.39" y="83.73" width="2.6" height="2.6"/><rect x="442.79" y="56.21" width="2.6" height="2.6"/><rect x="445.19" y="51.55" width="2.6" height="2.6"/><rect x="447.6" y="78.73" width="2.6" height="2.6"/><rect x="450" y="91.67" width="2.6" height="2.6"/><rect x="452.41" y="121.69" width="2.6" height="2.6"/><rect x="454.81" y="86.23" width="2.6" height="2.6"/><rect x="457.21" y="84.42" width="2.6" height="2.6"/><rect x="459.62" y="183.04" width="2.6" height="2.6"/><rect x="462.02" y="152.58" width="2.6" height="2.6"/><rect x="464.43" y="203.06" width="2.6" height="2.6"/><rect x="466.83" y="198.66" width="2.6" height="2.6"/><rect x="469.23" y="138.52" width="2.6" height="2.6"/><rect x="474.04" y="154.83" width="2.6" height="2.6"/><rect x="476.45" y="135.76" width="2.6" height="2.6"/><rect x="481.25" y="163.19" width="2.6" height="2.6"/><rect x="483.66" y="154.83" width="2.6" height="2.6"/><rect x="486.06" y="100.81" width="2.6" height="2.6"/><rect x="488.46" y="110.65" width="2.6" height="2.6"/><rect x="490.87" y="116.26" width="2.6" height="2.6"/><rect x="493.27" y="104.61" width="2.6" height="2.6"/><rect x="495.68" y="77.52" width="2.6" height="2.6"/><rect x="498.08" y="58.11" width="2.6" height="2.6"/></g>
<rect x="295.05" y="8.5" width="216.35" height="215.7" fill="none" stroke="#8a8a8a" stroke-width="0.7"/>
<line x1="295.05" y1="224.2" x2="295.05" y2="222" stroke="#8a8a8a" stroke-width="0.6"/>
<line x1="295.05" y1="8.5" x2="295.05" y2="10.7" stroke="#8a8a8a" stroke-width="0.6"/>
<text class="tk" text-anchor="middle" x="294.65" y="234.5">0</text>
<line x1="319.09" y1="224.2" x2="319.09" y2="222" stroke="#8a8a8a" stroke-width="0.6"/>
<line x1="319.09" y1="8.5" x2="319.09" y2="10.7" stroke="#8a8a8a" stroke-width="0.6"/>
<text class="tk" text-anchor="middle" x="318.69" y="234.5">10</text>
<line x1="343.13" y1="224.2" x2="343.13" y2="222" stroke="#8a8a8a" stroke-width="0.6"/>
<line x1="343.13" y1="8.5" x2="343.13" y2="10.7" stroke="#8a8a8a" stroke-width="0.6"/>
<text class="tk" text-anchor="middle" x="342.73" y="234.5">20</text>
<line x1="367.17" y1="224.2" x2="367.17" y2="222" stroke="#8a8a8a" stroke-width="0.6"/>
<line x1="367.17" y1="8.5" x2="367.17" y2="10.7" stroke="#8a8a8a" stroke-width="0.6"/>
<text class="tk" text-anchor="middle" x="366.77" y="234.5">30</text>
<line x1="391.21" y1="224.2" x2="391.21" y2="222" stroke="#8a8a8a" stroke-width="0.6"/>
<line x1="391.21" y1="8.5" x2="391.21" y2="10.7" stroke="#8a8a8a" stroke-width="0.6"/>
<text class="tk" text-anchor="middle" x="390.81" y="234.5">40</text>
<line x1="415.24" y1="224.2" x2="415.24" y2="222" stroke="#8a8a8a" stroke-width="0.6"/>
<line x1="415.24" y1="8.5" x2="415.24" y2="10.7" stroke="#8a8a8a" stroke-width="0.6"/>
<text class="tk" text-anchor="middle" x="414.84" y="234.5">50</text>
<line x1="439.28" y1="224.2" x2="439.28" y2="222" stroke="#8a8a8a" stroke-width="0.6"/>
<line x1="439.28" y1="8.5" x2="439.28" y2="10.7" stroke="#8a8a8a" stroke-width="0.6"/>
<text class="tk" text-anchor="middle" x="438.88" y="234.5">60</text>
<line x1="463.32" y1="224.2" x2="463.32" y2="222" stroke="#8a8a8a" stroke-width="0.6"/>
<line x1="463.32" y1="8.5" x2="463.32" y2="10.7" stroke="#8a8a8a" stroke-width="0.6"/>
<text class="tk" text-anchor="middle" x="462.92" y="234.5">70</text>
<line x1="487.36" y1="224.2" x2="487.36" y2="222" stroke="#8a8a8a" stroke-width="0.6"/>
<line x1="487.36" y1="8.5" x2="487.36" y2="10.7" stroke="#8a8a8a" stroke-width="0.6"/>
<text class="tk" text-anchor="middle" x="486.96" y="234.5">80</text>
<line x1="511.4" y1="224.2" x2="511.4" y2="222" stroke="#8a8a8a" stroke-width="0.6"/>
<line x1="511.4" y1="8.5" x2="511.4" y2="10.7" stroke="#8a8a8a" stroke-width="0.6"/>
<text class="tk" text-anchor="middle" x="511" y="234.5">90</text>
<line x1="295.05" y1="8.5" x2="297.25" y2="8.5" stroke="#8a8a8a" stroke-width="0.6"/>
<line x1="511.4" y1="8.5" x2="509.2" y2="8.5" stroke="#8a8a8a" stroke-width="0.6"/>
<text class="tk" text-anchor="end" x="292.45" y="11.6">0</text>
<line x1="295.05" y1="51.64" x2="297.25" y2="51.64" stroke="#8a8a8a" stroke-width="0.6"/>
<line x1="511.4" y1="51.64" x2="509.2" y2="51.64" stroke="#8a8a8a" stroke-width="0.6"/>
<text class="tk" text-anchor="end" x="292.45" y="54.74">-50</text>
<line x1="295.05" y1="94.78" x2="297.25" y2="94.78" stroke="#8a8a8a" stroke-width="0.6"/>
<line x1="511.4" y1="94.78" x2="509.2" y2="94.78" stroke="#8a8a8a" stroke-width="0.6"/>
<text class="tk" text-anchor="end" x="292.45" y="97.88">-100</text>
<line x1="295.05" y1="137.92" x2="297.25" y2="137.92" stroke="#8a8a8a" stroke-width="0.6"/>
<line x1="511.4" y1="137.92" x2="509.2" y2="137.92" stroke="#8a8a8a" stroke-width="0.6"/>
<text class="tk" text-anchor="end" x="292.45" y="141.02">-150</text>
<line x1="295.05" y1="181.06" x2="297.25" y2="181.06" stroke="#8a8a8a" stroke-width="0.6"/>
<line x1="511.4" y1="181.06" x2="509.2" y2="181.06" stroke="#8a8a8a" stroke-width="0.6"/>
<text class="tk" text-anchor="end" x="292.45" y="184.16">-200</text>
<line x1="295.05" y1="224.2" x2="297.25" y2="224.2" stroke="#8a8a8a" stroke-width="0.6"/>
<line x1="511.4" y1="224.2" x2="509.2" y2="224.2" stroke="#8a8a8a" stroke-width="0.6"/>
<text class="tk" text-anchor="end" x="292.45" y="227.3">-250</text>
<text class="lb" text-anchor="middle" x="403.23" y="246.1">Cycle</text>
<text class="yl" text-anchor="middle" transform="translate(273.85 116.45) rotate(-90)">Wet Tropospheric Correction [mm]</text>
<rect x="297.55" y="11" width="50.3" height="36.5" fill="#fff" stroke="#8a8a8a" stroke-width="0.7"/>
<line x1="298.55" y1="15.9" x2="307.55" y2="15.9" stroke="#e06060" stroke-width="0.45"/>
<rect x="302.15" y="14.6" width="2.6" height="2.6" fill="#ff0000"/>
<text class="lg" x="308.75" y="19">HY-2B AMR</text>
<line x1="298.55" y1="25" x2="307.55" y2="25" stroke="#60c060" stroke-width="0.45"/>
<rect x="302.15" y="23.7" width="2.6" height="2.6" fill="#00ff00"/>
<text class="lg" x="308.75" y="28">NCEP</text>
<line x1="298.55" y1="34.1" x2="307.55" y2="34.1" stroke="#6060e0" stroke-width="0.45"/>
<rect x="302.15" y="32.8" width="2.6" height="2.6" fill="#0000ff"/>
<text class="lg" x="308.75" y="37">ECMWF</text>
<line x1="298.55" y1="43.2" x2="307.55" y2="43.2" stroke="#555555" stroke-width="0.45"/>
<rect x="302.15" y="41.9" width="2.6" height="2.6" fill="#000000"/>
<text class="lg" x="308.75" y="46">MEN2</text>
<text class="cap" text-anchor="middle" x="390.5" y="265">(b)</text>
</g>
<g>
<line x1="57.43" y1="286.8" x2="57.43" y2="502.5" stroke="#e4e4e4" stroke-width="0.5"/>
<line x1="81.47" y1="286.8" x2="81.47" y2="502.5" stroke="#e4e4e4" stroke-width="0.5"/>
<line x1="105.5" y1="286.8" x2="105.5" y2="502.5" stroke="#e4e4e4" stroke-width="0.5"/>
<line x1="129.53" y1="286.8" x2="129.53" y2="502.5" stroke="#e4e4e4" stroke-width="0.5"/>
<line x1="153.57" y1="286.8" x2="153.57" y2="502.5" stroke="#e4e4e4" stroke-width="0.5"/>
<line x1="177.6" y1="286.8" x2="177.6" y2="502.5" stroke="#e4e4e4" stroke-width="0.5"/>
<line x1="201.63" y1="286.8" x2="201.63" y2="502.5" stroke="#e4e4e4" stroke-width="0.5"/>
<line x1="225.67" y1="286.8" x2="225.67" y2="502.5" stroke="#e4e4e4" stroke-width="0.5"/>
<line x1="33.4" y1="329.94" x2="249.7" y2="329.94" stroke="#e4e4e4" stroke-width="0.5"/>
<line x1="33.4" y1="373.08" x2="249.7" y2="373.08" stroke="#e4e4e4" stroke-width="0.5"/>
<line x1="33.4" y1="416.22" x2="249.7" y2="416.22" stroke="#e4e4e4" stroke-width="0.5"/>
<line x1="33.4" y1="459.36" x2="249.7" y2="459.36" stroke="#e4e4e4" stroke-width="0.5"/>
<polyline fill="none" stroke="#e06060" stroke-width="0.45" points="74.26,448.32 76.66,381.1 79.06,415.53 83.87,407.94 88.68,390.59 91.08,356.17 93.48,411.73 95.89,410.7 98.29,415.53 100.69,402.76 103.1,351.16 105.5,372.13 107.9,373.08 110.31,347.71 112.71,352.63 115.11,324.16 117.52,342.45 119.92,361 122.32,377.48 124.73,352.63 127.13,343.23 129.53,370.58 131.94,378.69 134.34,416.39 136.74,395.6 139.15,357.46 141.55,376.19 143.95,418.55 146.36,477.39 148.76,406.64 151.16,377.48 153.57,423.47 155.97,428.64 158.37,449.96 160.78,408.45 163.18,358.07 165.58,377.83 167.99,412.6 172.79,410.7 175.2,353.06 177.6,357.2 180,359.71 182.41,364.37 184.81,363.07 189.62,425.97 192.02,388.7 196.83,429.42 199.23,419.07 201.63,415.44 204.04,400 206.44,404.4 208.84,370.84 211.25,398.71 213.65,416.13 216.05,424.42 218.46,363.07 220.86,394.74 223.26,416.13 225.67,415.53 228.07,412.94 230.47,378.43 232.88,351.42 235.28,354.96 237.68,324.85 240.09,381.1"/>
<g fill="#ff0000"><rect x="72.96" y="447.02" width="2.6" height="2.6"/><rect x="75.36" y="379.8" width="2.6" height="2.6"/><rect x="77.76" y="414.23" width="2.6" height="2.6"/><rect x="82.57" y="406.64" width="2.6" height="2.6"/><rect x="87.38" y="389.29" width="2.6" height="2.6"/><rect x="89.78" y="354.87" width="2.6" height="2.6"/><rect x="92.18" y="410.43" width="2.6" height="2.6"/><rect x="94.59" y="409.4" width="2.6" height="2.6"/><rect x="96.99" y="414.23" width="2.6" height="2.6"/><rect x="99.39" y="401.46" width="2.6" height="2.6"/><rect x="101.8" y="349.86" width="2.6" height="2.6"/><rect x="104.2" y="370.83" width="2.6" height="2.6"/><rect x="106.6" y="371.78" width="2.6" height="2.6"/><rect x="109.01" y="346.41" width="2.6" height="2.6"/><rect x="111.41" y="351.33" width="2.6" height="2.6"/><rect x="113.81" y="322.86" width="2.6" height="2.6"/><rect x="116.22" y="341.15" width="2.6" height="2.6"/><rect x="118.62" y="359.7" width="2.6" height="2.6"/><rect x="121.02" y="376.18" width="2.6" height="2.6"/><rect x="123.43" y="351.33" width="2.6" height="2.6"/><rect x="125.83" y="341.93" width="2.6" height="2.6"/><rect x="128.23" y="369.28" width="2.6" height="2.6"/><rect x="130.64" y="377.39" width="2.6" height="2.6"/><rect x="133.04" y="415.09" width="2.6" height="2.6"/><rect x="135.44" y="394.3" width="2.6" height="2.6"/><rect x="137.85" y="356.16" width="2.6" height="2.6"/><rect x="140.25" y="374.89" width="2.6" height="2.6"/><rect x="142.65" y="417.25" width="2.6" height="2.6"/><rect x="145.06" y="476.09" width="2.6" height="2.6"/><rect x="147.46" y="405.34" width="2.6" height="2.6"/><rect x="149.86" y="376.18" width="2.6" height="2.6"/><rect x="152.27" y="422.17" width="2.6" height="2.6"/><rect x="154.67" y="427.34" width="2.6" height="2.6"/><rect x="157.07" y="448.66" width="2.6" height="2.6"/><rect x="159.48" y="407.15" width="2.6" height="2.6"/><rect x="161.88" y="356.77" width="2.6" height="2.6"/><rect x="164.28" y="376.53" width="2.6" height="2.6"/><rect x="166.69" y="411.3" width="2.6" height="2.6"/><rect x="171.49" y="409.4" width="2.6" height="2.6"/><rect x="173.9" y="351.76" width="2.6" height="2.6"/><rect x="176.3" y="355.9" width="2.6" height="2.6"/><rect x="178.7" y="358.41" width="2.6" height="2.6"/><rect x="181.11" y="363.07" width="2.6" height="2.6"/><rect x="183.51" y="361.77" width="2.6" height="2.6"/><rect x="188.32" y="424.67" width="2.6" height="2.6"/><rect x="190.72" y="387.4" width="2.6" height="2.6"/><rect x="195.53" y="428.12" width="2.6" height="2.6"/><rect x="197.93" y="417.77" width="2.6" height="2.6"/><rect x="200.33" y="414.14" width="2.6" height="2.6"/><rect x="202.74" y="398.7" width="2.6" height="2.6"/><rect x="205.14" y="403.1" width="2.6" height="2.6"/><rect x="207.54" y="369.54" width="2.6" height="2.6"/><rect x="209.95" y="397.41" width="2.6" height="2.6"/><rect x="212.35" y="414.83" width="2.6" height="2.6"/><rect x="214.75" y="423.12" width="2.6" height="2.6"/><rect x="217.16" y="361.77" width="2.6" height="2.6"/><rect x="219.56" y="393.44" width="2.6" height="2.6"/><rect x="221.96" y="414.83" width="2.6" height="2.6"/><rect x="224.37" y="414.23" width="2.6" height="2.6"/><rect x="226.77" y="411.64" width="2.6" height="2.6"/><rect x="229.17" y="377.13" width="2.6" height="2.6"/><rect x="231.58" y="350.12" width="2.6" height="2.6"/><rect x="233.98" y="353.66" width="2.6" height="2.6"/><rect x="236.38" y="323.55" width="2.6" height="2.6"/><rect x="238.79" y="379.8" width="2.6" height="2.6"/></g>
<polyline fill="none" stroke="#60c060" stroke-width="0.45" points="74.26,442.97 76.66,364.62 79.06,439.08 83.87,385.94 88.68,388.7 91.08,354.27 93.48,425.02 95.89,403.54 98.29,418.46 100.69,412.16 103.1,346.51 105.5,373.68 107.9,369.63 110.31,362.12 112.71,334.51 115.11,330.11 117.52,343.31 119.92,371.44 122.32,383.69 124.73,368.51 127.13,371.53 129.53,384.64 131.94,371.53 134.34,418.12 136.74,391.2 139.15,359.97 141.55,367.73 143.95,408.8 146.36,466.43 148.76,390.34 151.16,370.66 153.57,417.34 155.97,413.2 158.37,434.68 160.78,392.84 163.18,356.6 165.58,379.9 167.99,414.84 170.39,368.51 172.79,405 175.2,361.6 177.6,361.17 180,359.71 182.41,366.01 184.81,374.29 187.21,371.01 189.62,420.02 192.02,382.4 194.42,389.9 196.83,420.62 199.23,423.21 201.63,413.2 204.04,387.14 206.44,381.54 208.84,360.31 211.25,385.25 213.65,437.62 216.05,413.2 218.46,364.62 220.86,389.04 223.26,430.72 225.67,419.24 228.07,404.4 230.47,392.49 232.88,353.06 235.28,366.52 237.68,322.69 240.09,379.9"/>
<g fill="#00ff00"><rect x="72.96" y="441.67" width="2.6" height="2.6"/><rect x="75.36" y="363.32" width="2.6" height="2.6"/><rect x="77.76" y="437.78" width="2.6" height="2.6"/><rect x="82.57" y="384.64" width="2.6" height="2.6"/><rect x="87.38" y="387.4" width="2.6" height="2.6"/><rect x="89.78" y="352.97" width="2.6" height="2.6"/><rect x="92.18" y="423.72" width="2.6" height="2.6"/><rect x="94.59" y="402.24" width="2.6" height="2.6"/><rect x="96.99" y="417.16" width="2.6" height="2.6"/><rect x="99.39" y="410.86" width="2.6" height="2.6"/><rect x="101.8" y="345.21" width="2.6" height="2.6"/><rect x="104.2" y="372.38" width="2.6" height="2.6"/><rect x="106.6" y="368.33" width="2.6" height="2.6"/><rect x="109.01" y="360.82" width="2.6" height="2.6"/><rect x="111.41" y="333.21" width="2.6" height="2.6"/><rect x="113.81" y="328.81" width="2.6" height="2.6"/><rect x="116.22" y="342.01" width="2.6" height="2.6"/><rect x="118.62" y="370.14" width="2.6" height="2.6"/><rect x="121.02" y="382.39" width="2.6" height="2.6"/><rect x="123.43" y="367.21" width="2.6" height="2.6"/><rect x="125.83" y="370.23" width="2.6" height="2.6"/><rect x="128.23" y="383.34" width="2.6" height="2.6"/><rect x="130.64" y="370.23" width="2.6" height="2.6"/><rect x="133.04" y="416.82" width="2.6" height="2.6"/><rect x="135.44" y="389.9" width="2.6" height="2.6"/><rect x="137.85" y="358.67" width="2.6" height="2.6"/><rect x="140.25" y="366.43" width="2.6" height="2.6"/><rect x="142.65" y="407.5" width="2.6" height="2.6"/><rect x="145.06" y="465.13" width="2.6" height="2.6"/><rect x="147.46" y="389.04" width="2.6" height="2.6"/><rect x="149.86" y="369.36" width="2.6" height="2.6"/><rect x="152.27" y="416.04" width="2.6" height="2.6"/><rect x="154.67" y="411.9" width="2.6" height="2.6"/><rect x="157.07" y="433.38" width="2.6" height="2.6"/><rect x="159.48" y="391.54" width="2.6" height="2.6"/><rect x="161.88" y="355.3" width="2.6" height="2.6"/><rect x="164.28" y="378.6" width="2.6" height="2.6"/><rect x="166.69" y="413.54" width="2.6" height="2.6"/><rect x="169.09" y="367.21" width="2.6" height="2.6"/><rect x="171.49" y="403.7" width="2.6" height="2.6"/><rect x="173.9" y="360.3" width="2.6" height="2.6"/><rect x="176.3" y="359.87" width="2.6" height="2.6"/><rect x="178.7" y="358.41" width="2.6" height="2.6"/><rect x="181.11" y="364.71" width="2.6" height="2.6"/><rect x="183.51" y="372.99" width="2.6" height="2.6"/><rect x="185.91" y="369.71" width="2.6" height="2.6"/><rect x="188.32" y="418.72" width="2.6" height="2.6"/><rect x="190.72" y="381.1" width="2.6" height="2.6"/><rect x="193.12" y="388.6" width="2.6" height="2.6"/><rect x="195.53" y="419.32" width="2.6" height="2.6"/><rect x="197.93" y="421.91" width="2.6" height="2.6"/><rect x="200.33" y="411.9" width="2.6" height="2.6"/><rect x="202.74" y="385.84" width="2.6" height="2.6"/><rect x="205.14" y="380.24" width="2.6" height="2.6"/><rect x="207.54" y="359.01" width="2.6" height="2.6"/><rect x="209.95" y="383.95" width="2.6" height="2.6"/><rect x="212.35" y="436.32" width="2.6" height="2.6"/><rect x="214.75" y="411.9" width="2.6" height="2.6"/><rect x="217.16" y="363.32" width="2.6" height="2.6"/><rect x="219.56" y="387.74" width="2.6" height="2.6"/><rect x="221.96" y="429.42" width="2.6" height="2.6"/><rect x="224.37" y="417.94" width="2.6" height="2.6"/><rect x="226.77" y="403.1" width="2.6" height="2.6"/><rect x="229.17" y="391.19" width="2.6" height="2.6"/><rect x="231.58" y="351.76" width="2.6" height="2.6"/><rect x="233.98" y="365.22" width="2.6" height="2.6"/><rect x="236.38" y="321.39" width="2.6" height="2.6"/><rect x="238.79" y="378.6" width="2.6" height="2.6"/></g>
<polyline fill="none" stroke="#6060e0" stroke-width="0.45" points="74.26,447.37 76.66,369.63 79.06,412.86 83.87,380.15 88.68,382.4 91.08,347.11 93.48,416.13 95.89,406.04 98.29,411.73 100.69,419.24 103.1,344 105.5,372.13 107.9,369.63 110.31,374.72 112.71,361.6 115.11,330.89 117.52,350.13 119.92,368.16 122.32,394.74 124.73,362.73 127.13,359.1 129.53,380.5 131.94,375.58 134.34,423.04 136.74,400.6 139.15,355.91 141.55,355.57 143.95,411.99 146.36,466.78 148.76,405.26 151.16,362.47 153.57,420.62 155.97,413.2 158.37,444.86 160.78,394.3 163.18,353.67 165.58,397.5 167.99,409.06 170.39,363.07 172.79,420.1 175.2,354.7 177.6,362.47 180,357.81 182.41,381.1 184.81,371.44 187.21,366.52 189.62,440.46 192.02,385.94 194.42,393.1 196.83,440.46 199.23,420.71 201.63,411.04 204.04,377.22 206.44,390.59 208.84,356.17 211.25,388.09 213.65,433.99 216.05,420.53 218.46,358.07 220.86,393.1 223.26,428.56 225.67,430.54 228.07,401.64 230.47,390.59 232.88,362.12 235.28,366.52 237.68,320.45 240.09,382.74"/>
<g fill="#0000ff"><rect x="72.96" y="446.07" width="2.6" height="2.6"/><rect x="75.36" y="368.33" width="2.6" height="2.6"/><rect x="77.76" y="411.56" width="2.6" height="2.6"/><rect x="82.57" y="378.85" width="2.6" height="2.6"/><rect x="87.38" y="381.1" width="2.6" height="2.6"/><rect x="89.78" y="345.81" width="2.6" height="2.6"/><rect x="92.18" y="414.83" width="2.6" height="2.6"/><rect x="94.59" y="404.74" width="2.6" height="2.6"/><rect x="96.99" y="410.43" width="2.6" height="2.6"/><rect x="99.39" y="417.94" width="2.6" height="2.6"/><rect x="101.8" y="342.7" width="2.6" height="2.6"/><rect x="104.2" y="370.83" width="2.6" height="2.6"/><rect x="106.6" y="368.33" width="2.6" height="2.6"/><rect x="109.01" y="373.42" width="2.6" height="2.6"/><rect x="111.41" y="360.3" width="2.6" height="2.6"/><rect x="113.81" y="329.59" width="2.6" height="2.6"/><rect x="116.22" y="348.83" width="2.6" height="2.6"/><rect x="118.62" y="366.86" width="2.6" height="2.6"/><rect x="121.02" y="393.44" width="2.6" height="2.6"/><rect x="123.43" y="361.43" width="2.6" height="2.6"/><rect x="125.83" y="357.8" width="2.6" height="2.6"/><rect x="128.23" y="379.2" width="2.6" height="2.6"/><rect x="130.64" y="374.28" width="2.6" height="2.6"/><rect x="133.04" y="421.74" width="2.6" height="2.6"/><rect x="135.44" y="399.3" width="2.6" height="2.6"/><rect x="137.85" y="354.61" width="2.6" height="2.6"/><rect x="140.25" y="354.27" width="2.6" height="2.6"/><rect x="142.65" y="410.69" width="2.6" height="2.6"/><rect x="145.06" y="465.48" width="2.6" height="2.6"/><rect x="147.46" y="403.96" width="2.6" height="2.6"/><rect x="149.86" y="361.17" width="2.6" height="2.6"/><rect x="152.27" y="419.32" width="2.6" height="2.6"/><rect x="154.67" y="411.9" width="2.6" height="2.6"/><rect x="157.07" y="443.56" width="2.6" height="2.6"/><rect x="159.48" y="393" width="2.6" height="2.6"/><rect x="161.88" y="352.37" width="2.6" height="2.6"/><rect x="164.28" y="396.2" width="2.6" height="2.6"/><rect x="166.69" y="407.76" width="2.6" height="2.6"/><rect x="169.09" y="361.77" width="2.6" height="2.6"/><rect x="171.49" y="418.8" width="2.6" height="2.6"/><rect x="173.9" y="353.4" width="2.6" height="2.6"/><rect x="176.3" y="361.17" width="2.6" height="2.6"/><rect x="178.7" y="356.51" width="2.6" height="2.6"/><rect x="181.11" y="379.8" width="2.6" height="2.6"/><rect x="183.51" y="370.14" width="2.6" height="2.6"/><rect x="185.91" y="365.22" width="2.6" height="2.6"/><rect x="188.32" y="439.16" width="2.6" height="2.6"/><rect x="190.72" y="384.64" width="2.6" height="2.6"/><rect x="193.12" y="391.8" width="2.6" height="2.6"/><rect x="195.53" y="439.16" width="2.6" height="2.6"/><rect x="197.93" y="419.41" width="2.6" height="2.6"/><rect x="200.33" y="409.74" width="2.6" height="2.6"/><rect x="202.74" y="375.92" width="2.6" height="2.6"/><rect x="205.14" y="389.29" width="2.6" height="2.6"/><rect x="207.54" y="354.87" width="2.6" height="2.6"/><rect x="209.95" y="386.79" width="2.6" height="2.6"/><rect x="212.35" y="432.69" width="2.6" height="2.6"/><rect x="214.75" y="419.23" width="2.6" height="2.6"/><rect x="217.16" y="356.77" width="2.6" height="2.6"/><rect x="219.56" y="391.8" width="2.6" height="2.6"/><rect x="221.96" y="427.26" width="2.6" height="2.6"/><rect x="224.37" y="429.24" width="2.6" height="2.6"/><rect x="226.77" y="400.34" width="2.6" height="2.6"/><rect x="229.17" y="389.29" width="2.6" height="2.6"/><rect x="231.58" y="360.82" width="2.6" height="2.6"/><rect x="233.98" y="365.22" width="2.6" height="2.6"/><rect x="236.38" y="319.15" width="2.6" height="2.6"/><rect x="238.79" y="381.44" width="2.6" height="2.6"/></g>
<polyline fill="none" stroke="#555555" stroke-width="0.45" points="79.06,434.94 83.87,343.23 88.68,409.84 91.08,397.15 93.48,437.01 95.89,417.77 98.29,429.42 100.69,393.7 103.1,393.96 105.5,404.4 107.9,349.01 110.31,330.89 112.71,334.51 115.11,364.71 117.52,390.59 119.92,396.2 122.32,329.85 124.73,404.14 127.13,366.01 129.53,443.92 131.94,365.57 134.34,381.79 136.74,380.5 139.15,423.9 141.55,412.34 143.95,349.27 146.36,430.72 148.76,420.02 151.16,431.32 153.57,457.38 155.97,406.3 158.37,386.54 160.78,447.63 163.18,395 165.58,379.9 167.99,376.53 170.39,365.57 172.79,388.7 175.2,350.13 177.6,345.21 180,356.17 182.41,313.29 184.81,340.21 187.21,372.65 189.62,362.73 192.02,412.94 194.42,365.4 196.83,380.85 199.23,435.72 201.63,437.96 204.04,458.93 206.44,460.14 208.84,404.4"/>
<polyline fill="none" stroke="#555555" stroke-width="0.45" points="213.65,416.13 216.05,400.34"/>
<polyline fill="none" stroke="#555555" stroke-width="0.45" points="220.86,476.27 223.26,457.03 225.67,355.82 228.07,377.83 230.47,417.26 232.88,365.57 235.28,377.05 237.68,341.85 240.09,376.79"/>
<g fill="#000000"><rect x="72.96" y="455.99" width="2.6" height="2.6"/><rect x="77.76" y="433.64" width="2.6" height="2.6"/><rect x="82.57" y="341.93" width="2.6" height="2.6"/><rect x="87.38" y="408.54" width="2.6" height="2.6"/><rect x="89.78" y="395.85" width="2.6" height="2.6"/><rect x="92.18" y="435.71" width="2.6" height="2.6"/><rect x="94.59" y="416.47" width="2.6" height="2.6"/><rect x="96.99" y="428.12" width="2.6" height="2.6"/><rect x="99.39" y="392.4" width="2.6" height="2.6"/><rect x="101.8" y="392.66" width="2.6" height="2.6"/><rect x="104.2" y="403.1" width="2.6" height="2.6"/><rect x="106.6" y="347.71" width="2.6" height="2.6"/><rect x="109.01" y="329.59" width="2.6" height="2.6"/><rect x="111.41" y="333.21" width="2.6" height="2.6"/><rect x="113.81" y="363.41" width="2.6" height="2.6"/><rect x="116.22" y="389.29" width="2.6" height="2.6"/><rect x="118.62" y="394.9" width="2.6" height="2.6"/><rect x="121.02" y="328.55" width="2.6" height="2.6"/><rect x="123.43" y="402.84" width="2.6" height="2.6"/><rect x="125.83" y="364.71" width="2.6" height="2.6"/><rect x="128.23" y="442.62" width="2.6" height="2.6"/><rect x="130.64" y="364.27" width="2.6" height="2.6"/><rect x="133.04" y="380.49" width="2.6" height="2.6"/><rect x="135.44" y="379.2" width="2.6" height="2.6"/><rect x="137.85" y="422.6" width="2.6" height="2.6"/><rect x="140.25" y="411.04" width="2.6" height="2.6"/><rect x="142.65" y="347.97" width="2.6" height="2.6"/><rect x="145.06" y="429.42" width="2.6" height="2.6"/><rect x="147.46" y="418.72" width="2.6" height="2.6"/><rect x="149.86" y="430.02" width="2.6" height="2.6"/><rect x="152.27" y="456.08" width="2.6" height="2.6"/><rect x="154.67" y="405" width="2.6" height="2.6"/><rect x="157.07" y="385.24" width="2.6" height="2.6"/><rect x="159.48" y="446.33" width="2.6" height="2.6"/><rect x="161.88" y="393.7" width="2.6" height="2.6"/><rect x="164.28" y="378.6" width="2.6" height="2.6"/><rect x="166.69" y="375.23" width="2.6" height="2.6"/><rect x="169.09" y="364.27" width="2.6" height="2.6"/><rect x="171.49" y="387.4" width="2.6" height="2.6"/><rect x="173.9" y="348.83" width="2.6" height="2.6"/><rect x="176.3" y="343.91" width="2.6" height="2.6"/><rect x="178.7" y="354.87" width="2.6" height="2.6"/><rect x="181.11" y="311.99" width="2.6" height="2.6"/><rect x="183.51" y="338.91" width="2.6" height="2.6"/><rect x="185.91" y="371.35" width="2.6" height="2.6"/><rect x="188.32" y="361.43" width="2.6" height="2.6"/><rect x="190.72" y="411.64" width="2.6" height="2.6"/><rect x="193.12" y="364.1" width="2.6" height="2.6"/><rect x="195.53" y="379.55" width="2.6" height="2.6"/><rect x="197.93" y="434.42" width="2.6" height="2.6"/><rect x="200.33" y="436.66" width="2.6" height="2.6"/><rect x="202.74" y="457.63" width="2.6" height="2.6"/><rect x="205.14" y="458.84" width="2.6" height="2.6"/><rect x="207.54" y="403.1" width="2.6" height="2.6"/><rect x="212.35" y="414.83" width="2.6" height="2.6"/><rect x="214.75" y="399.04" width="2.6" height="2.6"/><rect x="219.56" y="474.97" width="2.6" height="2.6"/><rect x="221.96" y="455.73" width="2.6" height="2.6"/><rect x="224.37" y="354.52" width="2.6" height="2.6"/><rect x="226.77" y="376.53" width="2.6" height="2.6"/><rect x="229.17" y="415.96" width="2.6" height="2.6"/><rect x="231.58" y="364.27" width="2.6" height="2.6"/><rect x="233.98" y="375.75" width="2.6" height="2.6"/><rect x="236.38" y="340.55" width="2.6" height="2.6"/><rect x="238.79" y="375.49" width="2.6" height="2.6"/></g>
<rect x="33.4" y="286.8" width="216.3" height="215.7" fill="none" stroke="#8a8a8a" stroke-width="0.7"/>
<line x1="33.4" y1="502.5" x2="33.4" y2="500.3" stroke="#8a8a8a" stroke-width="0.6"/>
<line x1="33.4" y1="286.8" x2="33.4" y2="289" stroke="#8a8a8a" stroke-width="0.6"/>
<text class="tk" text-anchor="middle" x="33" y="512.8">0</text>
<line x1="57.43" y1="502.5" x2="57.43" y2="500.3" stroke="#8a8a8a" stroke-width="0.6"/>
<line x1="57.43" y1="286.8" x2="57.43" y2="289" stroke="#8a8a8a" stroke-width="0.6"/>
<text class="tk" text-anchor="middle" x="57.03" y="512.8">10</text>
<line x1="81.47" y1="502.5" x2="81.47" y2="500.3" stroke="#8a8a8a" stroke-width="0.6"/>
<line x1="81.47" y1="286.8" x2="81.47" y2="289" stroke="#8a8a8a" stroke-width="0.6"/>
<text class="tk" text-anchor="middle" x="81.07" y="512.8">20</text>
<line x1="105.5" y1="502.5" x2="105.5" y2="500.3" stroke="#8a8a8a" stroke-width="0.6"/>
<line x1="105.5" y1="286.8" x2="105.5" y2="289" stroke="#8a8a8a" stroke-width="0.6"/>
<text class="tk" text-anchor="middle" x="105.1" y="512.8">30</text>
<line x1="129.53" y1="502.5" x2="129.53" y2="500.3" stroke="#8a8a8a" stroke-width="0.6"/>
<line x1="129.53" y1="286.8" x2="129.53" y2="289" stroke="#8a8a8a" stroke-width="0.6"/>
<text class="tk" text-anchor="middle" x="129.13" y="512.8">40</text>
<line x1="153.57" y1="502.5" x2="153.57" y2="500.3" stroke="#8a8a8a" stroke-width="0.6"/>
<line x1="153.57" y1="286.8" x2="153.57" y2="289" stroke="#8a8a8a" stroke-width="0.6"/>
<text class="tk" text-anchor="middle" x="153.17" y="512.8">50</text>
<line x1="177.6" y1="502.5" x2="177.6" y2="500.3" stroke="#8a8a8a" stroke-width="0.6"/>
<line x1="177.6" y1="286.8" x2="177.6" y2="289" stroke="#8a8a8a" stroke-width="0.6"/>
<text class="tk" text-anchor="middle" x="177.2" y="512.8">60</text>
<line x1="201.63" y1="502.5" x2="201.63" y2="500.3" stroke="#8a8a8a" stroke-width="0.6"/>
<line x1="201.63" y1="286.8" x2="201.63" y2="289" stroke="#8a8a8a" stroke-width="0.6"/>
<text class="tk" text-anchor="middle" x="201.23" y="512.8">70</text>
<line x1="225.67" y1="502.5" x2="225.67" y2="500.3" stroke="#8a8a8a" stroke-width="0.6"/>
<line x1="225.67" y1="286.8" x2="225.67" y2="289" stroke="#8a8a8a" stroke-width="0.6"/>
<text class="tk" text-anchor="middle" x="225.27" y="512.8">80</text>
<line x1="249.7" y1="502.5" x2="249.7" y2="500.3" stroke="#8a8a8a" stroke-width="0.6"/>
<line x1="249.7" y1="286.8" x2="249.7" y2="289" stroke="#8a8a8a" stroke-width="0.6"/>
<text class="tk" text-anchor="middle" x="249.3" y="512.8">90</text>
<line x1="33.4" y1="286.8" x2="35.6" y2="286.8" stroke="#8a8a8a" stroke-width="0.6"/>
<line x1="249.7" y1="286.8" x2="247.5" y2="286.8" stroke="#8a8a8a" stroke-width="0.6"/>
<text class="tk" text-anchor="end" x="30.8" y="289.9">0</text>
<line x1="33.4" y1="329.94" x2="35.6" y2="329.94" stroke="#8a8a8a" stroke-width="0.6"/>
<line x1="249.7" y1="329.94" x2="247.5" y2="329.94" stroke="#8a8a8a" stroke-width="0.6"/>
<text class="tk" text-anchor="end" x="30.8" y="333.04">-50</text>
<line x1="33.4" y1="373.08" x2="35.6" y2="373.08" stroke="#8a8a8a" stroke-width="0.6"/>
<line x1="249.7" y1="373.08" x2="247.5" y2="373.08" stroke="#8a8a8a" stroke-width="0.6"/>
<text class="tk" text-anchor="end" x="30.8" y="376.18">-100</text>
<line x1="33.4" y1="416.22" x2="35.6" y2="416.22" stroke="#8a8a8a" stroke-width="0.6"/>
<line x1="249.7" y1="416.22" x2="247.5" y2="416.22" stroke="#8a8a8a" stroke-width="0.6"/>
<text class="tk" text-anchor="end" x="30.8" y="419.32">-150</text>
<line x1="33.4" y1="459.36" x2="35.6" y2="459.36" stroke="#8a8a8a" stroke-width="0.6"/>
<line x1="249.7" y1="459.36" x2="247.5" y2="459.36" stroke="#8a8a8a" stroke-width="0.6"/>
<text class="tk" text-anchor="end" x="30.8" y="462.46">-200</text>
<line x1="33.4" y1="502.5" x2="35.6" y2="502.5" stroke="#8a8a8a" stroke-width="0.6"/>
<line x1="249.7" y1="502.5" x2="247.5" y2="502.5" stroke="#8a8a8a" stroke-width="0.6"/>
<text class="tk" text-anchor="end" x="30.8" y="505.6">-250</text>
<text class="lb" text-anchor="middle" x="141.55" y="524.4">Cycle</text>
<text class="yl" text-anchor="middle" transform="translate(12.2 394.75) rotate(-90)">Wet Tropospheric Correction [mm]</text>
<rect x="35.9" y="289.3" width="50.3" height="36.5" fill="#fff" stroke="#8a8a8a" stroke-width="0.7"/>
<line x1="36.9" y1="294.2" x2="45.9" y2="294.2" stroke="#e06060" stroke-width="0.45"/>
<rect x="40.5" y="292.9" width="2.6" height="2.6" fill="#ff0000"/>
<text class="lg" x="47.1" y="297">HY-2B AMR</text>
<line x1="36.9" y1="303.3" x2="45.9" y2="303.3" stroke="#60c060" stroke-width="0.45"/>
<rect x="40.5" y="302" width="2.6" height="2.6" fill="#00ff00"/>
<text class="lg" x="47.1" y="306">NCEP</text>
<line x1="36.9" y1="312.4" x2="45.9" y2="312.4" stroke="#6060e0" stroke-width="0.45"/>
<rect x="40.5" y="311.1" width="2.6" height="2.6" fill="#0000ff"/>
<text class="lg" x="47.1" y="315">ECMWF</text>
<line x1="36.9" y1="321.5" x2="45.9" y2="321.5" stroke="#555555" stroke-width="0.45"/>
<rect x="40.5" y="320.2" width="2.6" height="2.6" fill="#000000"/>
<text class="lg" x="47.1" y="324">RDK1</text>
<text class="cap" text-anchor="middle" x="128.6" y="544">(c)</text>
</g>
<g>
<line x1="312.54" y1="286.85" x2="312.54" y2="502.5" stroke="#e4e4e4" stroke-width="0.5"/>
<line x1="336.59" y1="286.85" x2="336.59" y2="502.5" stroke="#e4e4e4" stroke-width="0.5"/>
<line x1="360.63" y1="286.85" x2="360.63" y2="502.5" stroke="#e4e4e4" stroke-width="0.5"/>
<line x1="384.68" y1="286.85" x2="384.68" y2="502.5" stroke="#e4e4e4" stroke-width="0.5"/>
<line x1="408.72" y1="286.85" x2="408.72" y2="502.5" stroke="#e4e4e4" stroke-width="0.5"/>
<line x1="432.77" y1="286.85" x2="432.77" y2="502.5" stroke="#e4e4e4" stroke-width="0.5"/>
<line x1="456.81" y1="286.85" x2="456.81" y2="502.5" stroke="#e4e4e4" stroke-width="0.5"/>
<line x1="480.86" y1="286.85" x2="480.86" y2="502.5" stroke="#e4e4e4" stroke-width="0.5"/>
<line x1="288.5" y1="329.98" x2="504.9" y2="329.98" stroke="#e4e4e4" stroke-width="0.5"/>
<line x1="288.5" y1="373.11" x2="504.9" y2="373.11" stroke="#e4e4e4" stroke-width="0.5"/>
<line x1="288.5" y1="416.24" x2="504.9" y2="416.24" stroke="#e4e4e4" stroke-width="0.5"/>
<line x1="288.5" y1="459.37" x2="504.9" y2="459.37" stroke="#e4e4e4" stroke-width="0.5"/>
<polyline fill="none" stroke="#e06060" stroke-width="0.45" points="329.38,446.43 334.18,411.24 338.99,402.96 343.8,385.96 348.61,415.89 351.02,405.46 353.42,412.53 355.82,397.78 358.23,347.15 360.63,371.99 363.04,356.81 365.44,346.37 367.85,351.46 370.25,321.35 372.66,339.21 375.06,357.24 377.46,378.29 379.87,352.41 382.27,339.9 384.68,368.37 387.08,373.02 389.49,411.24 391.89,393.12 394.3,354.74 396.7,379.67 399.1,412.53 401.51,482.75 403.91,405.46 406.32,376.73 408.72,417.53 411.13,427.63 413.53,448.59 415.94,405.72 420.74,376.73 423.15,408.74 425.55,364.05 427.96,409.34 430.36,351.2 432.77,354.05 435.17,356.63 437.58,363.1 439.98,361.21 444.79,426.94 447.19,389.07 449.6,392.09 452,428.58 454.41,415.03 456.81,412.1 459.22,399.16 461.62,397.52 464.02,372.33 466.43,402.96 471.24,422.54 473.64,360.86 476.05,394.33 478.45,410.03 480.86,413.13 483.26,413.39 485.66,374.23 488.07,352.67 490.47,356.63 492.88,325.06 495.28,382.08"/>
<g fill="#ff0000"><rect x="328.08" y="445.13" width="2.6" height="2.6"/><rect x="332.88" y="409.94" width="2.6" height="2.6"/><rect x="337.69" y="401.66" width="2.6" height="2.6"/><rect x="342.5" y="384.66" width="2.6" height="2.6"/><rect x="347.31" y="414.59" width="2.6" height="2.6"/><rect x="349.72" y="404.16" width="2.6" height="2.6"/><rect x="352.12" y="411.23" width="2.6" height="2.6"/><rect x="354.52" y="396.48" width="2.6" height="2.6"/><rect x="356.93" y="345.85" width="2.6" height="2.6"/><rect x="359.33" y="370.69" width="2.6" height="2.6"/><rect x="361.74" y="355.51" width="2.6" height="2.6"/><rect x="364.14" y="345.07" width="2.6" height="2.6"/><rect x="366.55" y="350.16" width="2.6" height="2.6"/><rect x="368.95" y="320.05" width="2.6" height="2.6"/><rect x="371.36" y="337.91" width="2.6" height="2.6"/><rect x="373.76" y="355.94" width="2.6" height="2.6"/><rect x="376.16" y="376.99" width="2.6" height="2.6"/><rect x="378.57" y="351.11" width="2.6" height="2.6"/><rect x="380.97" y="338.6" width="2.6" height="2.6"/><rect x="383.38" y="367.07" width="2.6" height="2.6"/><rect x="385.78" y="371.72" width="2.6" height="2.6"/><rect x="388.19" y="409.94" width="2.6" height="2.6"/><rect x="390.59" y="391.82" width="2.6" height="2.6"/><rect x="393" y="353.44" width="2.6" height="2.6"/><rect x="395.4" y="378.37" width="2.6" height="2.6"/><rect x="397.8" y="411.23" width="2.6" height="2.6"/><rect x="400.21" y="481.45" width="2.6" height="2.6"/><rect x="402.61" y="404.16" width="2.6" height="2.6"/><rect x="405.02" y="375.43" width="2.6" height="2.6"/><rect x="407.42" y="416.23" width="2.6" height="2.6"/><rect x="409.83" y="426.33" width="2.6" height="2.6"/><rect x="412.23" y="447.29" width="2.6" height="2.6"/><rect x="414.64" y="404.42" width="2.6" height="2.6"/><rect x="419.44" y="375.43" width="2.6" height="2.6"/><rect x="421.85" y="407.44" width="2.6" height="2.6"/><rect x="424.25" y="362.75" width="2.6" height="2.6"/><rect x="426.66" y="408.04" width="2.6" height="2.6"/><rect x="429.06" y="349.9" width="2.6" height="2.6"/><rect x="431.47" y="352.75" width="2.6" height="2.6"/><rect x="433.87" y="355.33" width="2.6" height="2.6"/><rect x="436.28" y="361.8" width="2.6" height="2.6"/><rect x="438.68" y="359.91" width="2.6" height="2.6"/><rect x="443.49" y="425.64" width="2.6" height="2.6"/><rect x="445.89" y="387.77" width="2.6" height="2.6"/><rect x="448.3" y="390.79" width="2.6" height="2.6"/><rect x="450.7" y="427.28" width="2.6" height="2.6"/><rect x="453.11" y="413.73" width="2.6" height="2.6"/><rect x="455.51" y="410.8" width="2.6" height="2.6"/><rect x="457.92" y="397.86" width="2.6" height="2.6"/><rect x="460.32" y="396.22" width="2.6" height="2.6"/><rect x="462.72" y="371.03" width="2.6" height="2.6"/><rect x="465.13" y="401.66" width="2.6" height="2.6"/><rect x="469.94" y="421.24" width="2.6" height="2.6"/><rect x="472.34" y="359.56" width="2.6" height="2.6"/><rect x="474.75" y="393.03" width="2.6" height="2.6"/><rect x="477.15" y="408.73" width="2.6" height="2.6"/><rect x="479.56" y="411.83" width="2.6" height="2.6"/><rect x="481.96" y="412.09" width="2.6" height="2.6"/><rect x="484.36" y="372.93" width="2.6" height="2.6"/><rect x="486.77" y="351.37" width="2.6" height="2.6"/><rect x="489.17" y="355.33" width="2.6" height="2.6"/><rect x="491.58" y="323.76" width="2.6" height="2.6"/><rect x="493.98" y="380.78" width="2.6" height="2.6"/></g>
<polyline fill="none" stroke="#60c060" stroke-width="0.45" points="329.38,442.38 331.78,368.97 334.18,439.53 338.99,385.27 343.8,391.57 346.21,354.56 348.61,429.18 351.02,400.89 353.42,416.67 355.82,408.99 358.23,345.51 360.63,372.85 363.04,368.8 365.44,364.4 367.85,361.03 370.25,330.07 372.66,343.26 375.06,371.47 377.46,384.58 379.87,370.52 382.27,366.55 384.68,384.07 387.08,370.18 389.49,413.74 391.89,391.57 394.3,359.74 396.7,370.69 399.1,406.32 401.51,471.1 403.91,390.97 406.32,407.27 408.72,411.93 411.13,412.88 413.53,435.13 415.94,391.57 418.34,358.1 420.74,394.76 423.15,415.03 425.55,367.42 427.96,404.77 430.36,360.26 432.77,361.21 435.17,359.39 437.58,364.4 439.98,375.53 442.38,370.18 444.79,423.23 447.19,382.43 449.6,388.12 452,422.45 454.41,418.83 456.81,413.39 459.22,390.36 461.62,380.18 464.02,365 466.43,386.57 468.83,437.46 471.24,411.67 473.64,362.5 476.05,391.83 478.45,425.99 480.86,417.19 483.26,402.52 485.66,390.62 488.07,354.74 490.47,377.42 492.88,322.13 495.28,379.49"/>
<g fill="#00ff00"><rect x="328.08" y="441.08" width="2.6" height="2.6"/><rect x="330.48" y="367.67" width="2.6" height="2.6"/><rect x="332.88" y="438.23" width="2.6" height="2.6"/><rect x="337.69" y="383.97" width="2.6" height="2.6"/><rect x="342.5" y="390.27" width="2.6" height="2.6"/><rect x="344.91" y="353.26" width="2.6" height="2.6"/><rect x="347.31" y="427.88" width="2.6" height="2.6"/><rect x="349.72" y="399.59" width="2.6" height="2.6"/><rect x="352.12" y="415.37" width="2.6" height="2.6"/><rect x="354.52" y="407.69" width="2.6" height="2.6"/><rect x="356.93" y="344.21" width="2.6" height="2.6"/><rect x="359.33" y="371.55" width="2.6" height="2.6"/><rect x="361.74" y="367.5" width="2.6" height="2.6"/><rect x="364.14" y="363.1" width="2.6" height="2.6"/><rect x="366.55" y="359.73" width="2.6" height="2.6"/><rect x="368.95" y="328.77" width="2.6" height="2.6"/><rect x="371.36" y="341.96" width="2.6" height="2.6"/><rect x="373.76" y="370.17" width="2.6" height="2.6"/><rect x="376.16" y="383.28" width="2.6" height="2.6"/><rect x="378.57" y="369.22" width="2.6" height="2.6"/><rect x="380.97" y="365.25" width="2.6" height="2.6"/><rect x="383.38" y="382.77" width="2.6" height="2.6"/><rect x="385.78" y="368.88" width="2.6" height="2.6"/><rect x="388.19" y="412.44" width="2.6" height="2.6"/><rect x="390.59" y="390.27" width="2.6" height="2.6"/><rect x="393" y="358.44" width="2.6" height="2.6"/><rect x="395.4" y="369.39" width="2.6" height="2.6"/><rect x="397.8" y="405.02" width="2.6" height="2.6"/><rect x="400.21" y="469.8" width="2.6" height="2.6"/><rect x="402.61" y="389.67" width="2.6" height="2.6"/><rect x="405.02" y="405.97" width="2.6" height="2.6"/><rect x="407.42" y="410.63" width="2.6" height="2.6"/><rect x="409.83" y="411.58" width="2.6" height="2.6"/><rect x="412.23" y="433.83" width="2.6" height="2.6"/><rect x="414.64" y="390.27" width="2.6" height="2.6"/><rect x="417.04" y="356.8" width="2.6" height="2.6"/><rect x="419.44" y="393.46" width="2.6" height="2.6"/><rect x="421.85" y="413.73" width="2.6" height="2.6"/><rect x="424.25" y="366.12" width="2.6" height="2.6"/><rect x="426.66" y="403.47" width="2.6" height="2.6"/><rect x="429.06" y="358.96" width="2.6" height="2.6"/><rect x="431.47" y="359.91" width="2.6" height="2.6"/><rect x="433.87" y="358.09" width="2.6" height="2.6"/><rect x="436.28" y="363.1" width="2.6" height="2.6"/><rect x="438.68" y="374.23" width="2.6" height="2.6"/><rect x="441.08" y="368.88" width="2.6" height="2.6"/><rect x="443.49" y="421.93" width="2.6" height="2.6"/><rect x="445.89" y="381.13" width="2.6" height="2.6"/><rect x="448.3" y="386.82" width="2.6" height="2.6"/><rect x="450.7" y="421.15" width="2.6" height="2.6"/><rect x="453.11" y="417.53" width="2.6" height="2.6"/><rect x="455.51" y="412.09" width="2.6" height="2.6"/><rect x="457.92" y="389.06" width="2.6" height="2.6"/><rect x="460.32" y="378.88" width="2.6" height="2.6"/><rect x="462.72" y="363.7" width="2.6" height="2.6"/><rect x="465.13" y="385.27" width="2.6" height="2.6"/><rect x="467.53" y="436.16" width="2.6" height="2.6"/><rect x="469.94" y="410.37" width="2.6" height="2.6"/><rect x="472.34" y="361.2" width="2.6" height="2.6"/><rect x="474.75" y="390.53" width="2.6" height="2.6"/><rect x="477.15" y="424.69" width="2.6" height="2.6"/><rect x="479.56" y="415.89" width="2.6" height="2.6"/><rect x="481.96" y="401.22" width="2.6" height="2.6"/><rect x="484.36" y="389.32" width="2.6" height="2.6"/><rect x="486.77" y="353.44" width="2.6" height="2.6"/><rect x="489.17" y="376.12" width="2.6" height="2.6"/><rect x="491.58" y="320.83" width="2.6" height="2.6"/><rect x="493.98" y="378.19" width="2.6" height="2.6"/></g>
<polyline fill="none" stroke="#6060e0" stroke-width="0.45" points="329.38,450.49 331.78,384.32 334.18,414.43 338.99,386.48 343.8,390.36 346.21,352.67 348.61,419.26 351.02,398.13 353.42,416.67 355.82,427.97 358.23,350.94 360.63,374.58 363.04,372.59 365.44,374.49 367.85,368.8 370.25,332.57 372.66,351.8 375.06,370 377.46,401.32 379.87,368.62 382.27,361.9 384.68,378.03 387.08,373.2 389.49,421.59 391.89,400.02 394.3,362.76 396.7,368.11 399.1,405.46 401.51,469.2 403.91,407.27 406.32,371.47 408.72,416.07 411.13,412.88 413.53,453.25 415.94,397.26 418.34,359.39 420.74,404.16 423.15,412.1 425.55,366.04 427.96,418.83 430.36,360.26 432.77,365.61 435.17,361.03 437.58,383.29 439.98,373.89 442.38,365.61 444.79,444.79 447.19,387.86 449.6,394.16 452,434.7 454.41,412.88 456.81,406.32 459.22,384.07 461.62,398.13 464.02,363.1 466.43,401.32 468.83,434.35 471.24,413.13 473.64,364.4 476.05,397.26 478.45,426.85 480.86,435.82 483.26,404.68 485.66,394.76 488.07,365.61 490.47,373.2 492.88,323.34 495.28,383.89"/>
<g fill="#0000ff"><rect x="328.08" y="449.19" width="2.6" height="2.6"/><rect x="330.48" y="383.02" width="2.6" height="2.6"/><rect x="332.88" y="413.13" width="2.6" height="2.6"/><rect x="337.69" y="385.18" width="2.6" height="2.6"/><rect x="342.5" y="389.06" width="2.6" height="2.6"/><rect x="344.91" y="351.37" width="2.6" height="2.6"/><rect x="347.31" y="417.96" width="2.6" height="2.6"/><rect x="349.72" y="396.83" width="2.6" height="2.6"/><rect x="352.12" y="415.37" width="2.6" height="2.6"/><rect x="354.52" y="426.67" width="2.6" height="2.6"/><rect x="356.93" y="349.64" width="2.6" height="2.6"/><rect x="359.33" y="373.28" width="2.6" height="2.6"/><rect x="361.74" y="371.29" width="2.6" height="2.6"/><rect x="364.14" y="373.19" width="2.6" height="2.6"/><rect x="366.55" y="367.5" width="2.6" height="2.6"/><rect x="368.95" y="331.27" width="2.6" height="2.6"/><rect x="371.36" y="350.5" width="2.6" height="2.6"/><rect x="373.76" y="368.7" width="2.6" height="2.6"/><rect x="376.16" y="400.02" width="2.6" height="2.6"/><rect x="378.57" y="367.32" width="2.6" height="2.6"/><rect x="380.97" y="360.6" width="2.6" height="2.6"/><rect x="383.38" y="376.73" width="2.6" height="2.6"/><rect x="385.78" y="371.9" width="2.6" height="2.6"/><rect x="388.19" y="420.29" width="2.6" height="2.6"/><rect x="390.59" y="398.72" width="2.6" height="2.6"/><rect x="393" y="361.46" width="2.6" height="2.6"/><rect x="395.4" y="366.81" width="2.6" height="2.6"/><rect x="397.8" y="404.16" width="2.6" height="2.6"/><rect x="400.21" y="467.9" width="2.6" height="2.6"/><rect x="402.61" y="405.97" width="2.6" height="2.6"/><rect x="405.02" y="370.17" width="2.6" height="2.6"/><rect x="407.42" y="414.77" width="2.6" height="2.6"/><rect x="409.83" y="411.58" width="2.6" height="2.6"/><rect x="412.23" y="451.95" width="2.6" height="2.6"/><rect x="414.64" y="395.96" width="2.6" height="2.6"/><rect x="417.04" y="358.09" width="2.6" height="2.6"/><rect x="419.44" y="402.86" width="2.6" height="2.6"/><rect x="421.85" y="410.8" width="2.6" height="2.6"/><rect x="424.25" y="364.74" width="2.6" height="2.6"/><rect x="426.66" y="417.53" width="2.6" height="2.6"/><rect x="429.06" y="358.96" width="2.6" height="2.6"/><rect x="431.47" y="364.31" width="2.6" height="2.6"/><rect x="433.87" y="359.73" width="2.6" height="2.6"/><rect x="436.28" y="381.99" width="2.6" height="2.6"/><rect x="438.68" y="372.59" width="2.6" height="2.6"/><rect x="441.08" y="364.31" width="2.6" height="2.6"/><rect x="443.49" y="443.49" width="2.6" height="2.6"/><rect x="445.89" y="386.56" width="2.6" height="2.6"/><rect x="448.3" y="392.86" width="2.6" height="2.6"/><rect x="450.7" y="433.4" width="2.6" height="2.6"/><rect x="453.11" y="411.58" width="2.6" height="2.6"/><rect x="455.51" y="405.02" width="2.6" height="2.6"/><rect x="457.92" y="382.77" width="2.6" height="2.6"/><rect x="460.32" y="396.83" width="2.6" height="2.6"/><rect x="462.72" y="361.8" width="2.6" height="2.6"/><rect x="465.13" y="400.02" width="2.6" height="2.6"/><rect x="467.53" y="433.05" width="2.6" height="2.6"/><rect x="469.94" y="411.83" width="2.6" height="2.6"/><rect x="472.34" y="363.1" width="2.6" height="2.6"/><rect x="474.75" y="395.96" width="2.6" height="2.6"/><rect x="477.15" y="425.55" width="2.6" height="2.6"/><rect x="479.56" y="434.52" width="2.6" height="2.6"/><rect x="481.96" y="403.38" width="2.6" height="2.6"/><rect x="484.36" y="393.46" width="2.6" height="2.6"/><rect x="486.77" y="364.31" width="2.6" height="2.6"/><rect x="489.17" y="371.9" width="2.6" height="2.6"/><rect x="491.58" y="322.04" width="2.6" height="2.6"/><rect x="493.98" y="382.59" width="2.6" height="2.6"/></g>
<polyline fill="none" stroke="#555555" stroke-width="0.45" points="334.18,427.02 338.99,368.37 343.8,452.64"/>
<polyline fill="none" stroke="#555555" stroke-width="0.45" points="348.61,406.06 351.02,422.45 353.42,426.42 355.82,365 358.23,390.36 360.63,385.96 363.04,356.81 365.44,352.15 367.85,325.06 370.25,357.24 372.66,369.92 375.06,377.16 377.46,332.74 379.87,384.32 382.27,376.73 384.68,430.99 387.08,361.21 389.49,394.76 391.89,373.63 394.3,449.19 396.7,445.14 399.1,393.98 401.51,437.2 403.91,441.34 406.32,407.27 408.72,449.45 411.13,402.18 413.53,375.87 415.94,427.11 418.34,402.96 420.74,375.27 423.15,362.5 425.55,347.15 427.96,371.13"/>
<g fill="#000000"><rect x="328.08" y="477.74" width="2.6" height="2.6"/><rect x="332.88" y="425.72" width="2.6" height="2.6"/><rect x="337.69" y="367.07" width="2.6" height="2.6"/><rect x="342.5" y="451.34" width="2.6" height="2.6"/><rect x="347.31" y="404.76" width="2.6" height="2.6"/><rect x="349.72" y="421.15" width="2.6" height="2.6"/><rect x="352.12" y="425.12" width="2.6" height="2.6"/><rect x="354.52" y="363.7" width="2.6" height="2.6"/><rect x="356.93" y="389.06" width="2.6" height="2.6"/><rect x="359.33" y="384.66" width="2.6" height="2.6"/><rect x="361.74" y="355.51" width="2.6" height="2.6"/><rect x="364.14" y="350.85" width="2.6" height="2.6"/><rect x="366.55" y="323.76" width="2.6" height="2.6"/><rect x="368.95" y="355.94" width="2.6" height="2.6"/><rect x="371.36" y="368.62" width="2.6" height="2.6"/><rect x="373.76" y="375.86" width="2.6" height="2.6"/><rect x="376.16" y="331.44" width="2.6" height="2.6"/><rect x="378.57" y="383.02" width="2.6" height="2.6"/><rect x="380.97" y="375.43" width="2.6" height="2.6"/><rect x="383.38" y="429.69" width="2.6" height="2.6"/><rect x="385.78" y="359.91" width="2.6" height="2.6"/><rect x="388.19" y="393.46" width="2.6" height="2.6"/><rect x="390.59" y="372.33" width="2.6" height="2.6"/><rect x="393" y="447.89" width="2.6" height="2.6"/><rect x="395.4" y="443.84" width="2.6" height="2.6"/><rect x="397.8" y="392.68" width="2.6" height="2.6"/><rect x="400.21" y="435.9" width="2.6" height="2.6"/><rect x="402.61" y="440.04" width="2.6" height="2.6"/><rect x="405.02" y="405.97" width="2.6" height="2.6"/><rect x="407.42" y="448.15" width="2.6" height="2.6"/><rect x="409.83" y="400.88" width="2.6" height="2.6"/><rect x="412.23" y="374.57" width="2.6" height="2.6"/><rect x="414.64" y="425.81" width="2.6" height="2.6"/><rect x="417.04" y="401.66" width="2.6" height="2.6"/><rect x="419.44" y="373.97" width="2.6" height="2.6"/><rect x="421.85" y="361.2" width="2.6" height="2.6"/><rect x="424.25" y="345.85" width="2.6" height="2.6"/><rect x="426.66" y="369.83" width="2.6" height="2.6"/></g>
<rect x="288.5" y="286.85" width="216.4" height="215.65" fill="none" stroke="#8a8a8a" stroke-width="0.7"/>
<line x1="288.5" y1="502.5" x2="288.5" y2="500.3" stroke="#8a8a8a" stroke-width="0.6"/>
<line x1="288.5" y1="286.85" x2="288.5" y2="289.05" stroke="#8a8a8a" stroke-width="0.6"/>
<text class="tk" text-anchor="middle" x="288.1" y="512.8">0</text>
<line x1="312.54" y1="502.5" x2="312.54" y2="500.3" stroke="#8a8a8a" stroke-width="0.6"/>
<line x1="312.54" y1="286.85" x2="312.54" y2="289.05" stroke="#8a8a8a" stroke-width="0.6"/>
<text class="tk" text-anchor="middle" x="312.14" y="512.8">10</text>
<line x1="336.59" y1="502.5" x2="336.59" y2="500.3" stroke="#8a8a8a" stroke-width="0.6"/>
<line x1="336.59" y1="286.85" x2="336.59" y2="289.05" stroke="#8a8a8a" stroke-width="0.6"/>
<text class="tk" text-anchor="middle" x="336.19" y="512.8">20</text>
<line x1="360.63" y1="502.5" x2="360.63" y2="500.3" stroke="#8a8a8a" stroke-width="0.6"/>
<line x1="360.63" y1="286.85" x2="360.63" y2="289.05" stroke="#8a8a8a" stroke-width="0.6"/>
<text class="tk" text-anchor="middle" x="360.23" y="512.8">30</text>
<line x1="384.68" y1="502.5" x2="384.68" y2="500.3" stroke="#8a8a8a" stroke-width="0.6"/>
<line x1="384.68" y1="286.85" x2="384.68" y2="289.05" stroke="#8a8a8a" stroke-width="0.6"/>
<text class="tk" text-anchor="middle" x="384.28" y="512.8">40</text>
<line x1="408.72" y1="502.5" x2="408.72" y2="500.3" stroke="#8a8a8a" stroke-width="0.6"/>
<line x1="408.72" y1="286.85" x2="408.72" y2="289.05" stroke="#8a8a8a" stroke-width="0.6"/>
<text class="tk" text-anchor="middle" x="408.32" y="512.8">50</text>
<line x1="432.77" y1="502.5" x2="432.77" y2="500.3" stroke="#8a8a8a" stroke-width="0.6"/>
<line x1="432.77" y1="286.85" x2="432.77" y2="289.05" stroke="#8a8a8a" stroke-width="0.6"/>
<text class="tk" text-anchor="middle" x="432.37" y="512.8">60</text>
<line x1="456.81" y1="502.5" x2="456.81" y2="500.3" stroke="#8a8a8a" stroke-width="0.6"/>
<line x1="456.81" y1="286.85" x2="456.81" y2="289.05" stroke="#8a8a8a" stroke-width="0.6"/>
<text class="tk" text-anchor="middle" x="456.41" y="512.8">70</text>
<line x1="480.86" y1="502.5" x2="480.86" y2="500.3" stroke="#8a8a8a" stroke-width="0.6"/>
<line x1="480.86" y1="286.85" x2="480.86" y2="289.05" stroke="#8a8a8a" stroke-width="0.6"/>
<text class="tk" text-anchor="middle" x="480.46" y="512.8">80</text>
<line x1="504.9" y1="502.5" x2="504.9" y2="500.3" stroke="#8a8a8a" stroke-width="0.6"/>
<line x1="504.9" y1="286.85" x2="504.9" y2="289.05" stroke="#8a8a8a" stroke-width="0.6"/>
<text class="tk" text-anchor="middle" x="504.5" y="512.8">90</text>
<line x1="288.5" y1="286.85" x2="290.7" y2="286.85" stroke="#8a8a8a" stroke-width="0.6"/>
<line x1="504.9" y1="286.85" x2="502.7" y2="286.85" stroke="#8a8a8a" stroke-width="0.6"/>
<text class="tk" text-anchor="end" x="285.9" y="289.95">0</text>
<line x1="288.5" y1="329.98" x2="290.7" y2="329.98" stroke="#8a8a8a" stroke-width="0.6"/>
<line x1="504.9" y1="329.98" x2="502.7" y2="329.98" stroke="#8a8a8a" stroke-width="0.6"/>
<text class="tk" text-anchor="end" x="285.9" y="333.08">-50</text>
<line x1="288.5" y1="373.11" x2="290.7" y2="373.11" stroke="#8a8a8a" stroke-width="0.6"/>
<line x1="504.9" y1="373.11" x2="502.7" y2="373.11" stroke="#8a8a8a" stroke-width="0.6"/>
<text class="tk" text-anchor="end" x="285.9" y="376.21">-100</text>
<line x1="288.5" y1="416.24" x2="290.7" y2="416.24" stroke="#8a8a8a" stroke-width="0.6"/>
<line x1="504.9" y1="416.24" x2="502.7" y2="416.24" stroke="#8a8a8a" stroke-width="0.6"/>
<text class="tk" text-anchor="end" x="285.9" y="419.34">-150</text>
<line x1="288.5" y1="459.37" x2="290.7" y2="459.37" stroke="#8a8a8a" stroke-width="0.6"/>
<line x1="504.9" y1="459.37" x2="502.7" y2="459.37" stroke="#8a8a8a" stroke-width="0.6"/>
<text class="tk" text-anchor="end" x="285.9" y="462.47">-200</text>
<line x1="288.5" y1="502.5" x2="290.7" y2="502.5" stroke="#8a8a8a" stroke-width="0.6"/>
<line x1="504.9" y1="502.5" x2="502.7" y2="502.5" stroke="#8a8a8a" stroke-width="0.6"/>
<text class="tk" text-anchor="end" x="285.9" y="505.6">-250</text>
<text class="lb" text-anchor="middle" x="396.7" y="524.4">Cycle</text>
<text class="yl" text-anchor="middle" transform="translate(267.3 394.78) rotate(-90)">Wet Tropospheric Correction [mm]</text>
<rect x="291" y="289.35" width="50.3" height="36.5" fill="#fff" stroke="#8a8a8a" stroke-width="0.7"/>
<line x1="292" y1="294.25" x2="301" y2="294.25" stroke="#e06060" stroke-width="0.45"/>
<rect x="295.6" y="292.95" width="2.6" height="2.6" fill="#ff0000"/>
<text class="lg" x="302.2" y="297">HY-2B AMR</text>
<line x1="292" y1="303.35" x2="301" y2="303.35" stroke="#60c060" stroke-width="0.45"/>
<rect x="295.6" y="302.05" width="2.6" height="2.6" fill="#00ff00"/>
<text class="lg" x="302.2" y="306">NCEP</text>
<line x1="292" y1="312.45" x2="301" y2="312.45" stroke="#6060e0" stroke-width="0.45"/>
<rect x="295.6" y="311.15" width="2.6" height="2.6" fill="#0000ff"/>
<text class="lg" x="302.2" y="315">ECMWF</text>
<line x1="292" y1="321.55" x2="301" y2="321.55" stroke="#555555" stroke-width="0.45"/>
<rect x="295.6" y="320.25" width="2.6" height="2.6" fill="#000000"/>
<text class="lg" x="302.2" y="325">RETH</text>
<text class="cap" text-anchor="middle" x="384" y="544">(d)</text>
</g>
</svg></body></html>
